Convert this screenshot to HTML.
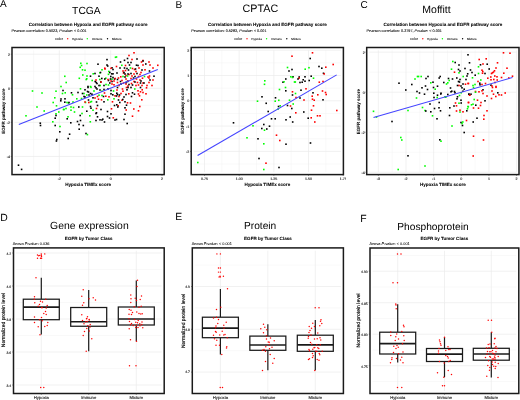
<!DOCTYPE html>
<html><head><meta charset="utf-8"><style>
html,body{margin:0;padding:0;background:#fff;}
svg{display:block;will-change:transform;}
text{font-family:"Liberation Sans", sans-serif;text-rendering:geometricPrecision;}
</style></head><body>
<svg xmlns="http://www.w3.org/2000/svg" width="520" height="400" viewBox="0 0 520 400">
<rect width="520" height="400" fill="#fff"/>
<line x1="33.65" y1="50.30" x2="33.65" y2="172.10" stroke="#f3f3f3" stroke-width="0.5"/>
<line x1="84.99" y1="50.30" x2="84.99" y2="172.10" stroke="#f3f3f3" stroke-width="0.5"/>
<line x1="136.33" y1="50.30" x2="136.33" y2="172.10" stroke="#f3f3f3" stroke-width="0.5"/>
<line x1="14.50" y1="71.26" x2="161.70" y2="71.26" stroke="#f3f3f3" stroke-width="0.5"/>
<line x1="14.50" y1="105.34" x2="161.70" y2="105.34" stroke="#f3f3f3" stroke-width="0.5"/>
<line x1="14.50" y1="139.42" x2="161.70" y2="139.42" stroke="#f3f3f3" stroke-width="0.5"/>
<line x1="14.50" y1="173.50" x2="161.70" y2="173.50" stroke="#f3f3f3" stroke-width="0.5"/>
<line x1="59.32" y1="50.30" x2="59.32" y2="172.10" stroke="#ebebeb" stroke-width="0.7"/>
<line x1="110.66" y1="50.30" x2="110.66" y2="172.10" stroke="#ebebeb" stroke-width="0.7"/>
<line x1="162.00" y1="50.30" x2="162.00" y2="172.10" stroke="#ebebeb" stroke-width="0.7"/>
<line x1="14.50" y1="54.22" x2="161.70" y2="54.22" stroke="#ebebeb" stroke-width="0.7"/>
<line x1="14.50" y1="88.30" x2="161.70" y2="88.30" stroke="#ebebeb" stroke-width="0.7"/>
<line x1="14.50" y1="122.38" x2="161.70" y2="122.38" stroke="#ebebeb" stroke-width="0.7"/>
<line x1="14.50" y1="156.46" x2="161.70" y2="156.46" stroke="#ebebeb" stroke-width="0.7"/>
<rect x="60.20" y="85.70" width="1.6" height="1.6" fill="#00ff00"/>
<rect x="114.70" y="56.50" width="1.6" height="1.6" fill="#00ff00"/>
<rect x="80.00" y="62.50" width="1.6" height="1.6" fill="#00ff00"/>
<rect x="86.20" y="62.70" width="1.6" height="1.6" fill="#00ff00"/>
<rect x="80.80" y="64.70" width="1.6" height="1.6" fill="#00ff00"/>
<rect x="79.40" y="66.50" width="1.6" height="1.6" fill="#00ff00"/>
<rect x="81.70" y="69.00" width="1.6" height="1.6" fill="#00ff00"/>
<rect x="84.20" y="69.40" width="1.6" height="1.6" fill="#00ff00"/>
<rect x="101.20" y="69.00" width="1.6" height="1.6" fill="#00ff00"/>
<rect x="92.40" y="73.00" width="1.6" height="1.6" fill="#00ff00"/>
<rect x="99.20" y="72.00" width="1.6" height="1.6" fill="#00ff00"/>
<rect x="108.00" y="70.70" width="1.6" height="1.6" fill="#00ff00"/>
<rect x="107.70" y="73.50" width="1.6" height="1.6" fill="#00ff00"/>
<rect x="82.00" y="74.20" width="1.6" height="1.6" fill="#00ff00"/>
<rect x="86.20" y="75.20" width="1.6" height="1.6" fill="#00ff00"/>
<rect x="64.00" y="75.50" width="1.6" height="1.6" fill="#00ff00"/>
<rect x="78.50" y="77.50" width="1.6" height="1.6" fill="#00ff00"/>
<rect x="86.00" y="78.00" width="1.6" height="1.6" fill="#00ff00"/>
<rect x="85.40" y="78.70" width="1.6" height="1.6" fill="#00ff00"/>
<rect x="91.40" y="79.70" width="1.6" height="1.6" fill="#00ff00"/>
<rect x="99.00" y="78.70" width="1.6" height="1.6" fill="#00ff00"/>
<rect x="65.40" y="81.70" width="1.6" height="1.6" fill="#00ff00"/>
<rect x="105.00" y="77.40" width="1.6" height="1.6" fill="#00ff00"/>
<rect x="89.70" y="85.70" width="1.6" height="1.6" fill="#00ff00"/>
<rect x="99.40" y="84.70" width="1.6" height="1.6" fill="#00ff00"/>
<rect x="105.20" y="83.70" width="1.6" height="1.6" fill="#00ff00"/>
<rect x="111.20" y="78.40" width="1.6" height="1.6" fill="#00ff00"/>
<rect x="107.70" y="84.20" width="1.6" height="1.6" fill="#00ff00"/>
<rect x="106.20" y="58.80" width="1.6" height="1.6" fill="#000000"/>
<rect x="97.20" y="63.40" width="1.6" height="1.6" fill="#000000"/>
<rect x="106.20" y="64.20" width="1.6" height="1.6" fill="#000000"/>
<rect x="106.90" y="65.20" width="1.6" height="1.6" fill="#000000"/>
<rect x="111.20" y="67.00" width="1.6" height="1.6" fill="#000000"/>
<rect x="112.20" y="68.70" width="1.6" height="1.6" fill="#000000"/>
<rect x="94.20" y="72.70" width="1.6" height="1.6" fill="#000000"/>
<rect x="99.70" y="71.70" width="1.6" height="1.6" fill="#000000"/>
<rect x="109.00" y="71.70" width="1.6" height="1.6" fill="#000000"/>
<rect x="111.00" y="73.00" width="1.6" height="1.6" fill="#000000"/>
<rect x="112.20" y="73.00" width="1.6" height="1.6" fill="#000000"/>
<rect x="89.70" y="75.40" width="1.6" height="1.6" fill="#000000"/>
<rect x="98.20" y="75.40" width="1.6" height="1.6" fill="#000000"/>
<rect x="101.00" y="77.70" width="1.6" height="1.6" fill="#000000"/>
<rect x="104.00" y="78.20" width="1.6" height="1.6" fill="#000000"/>
<rect x="110.00" y="75.70" width="1.6" height="1.6" fill="#000000"/>
<rect x="109.70" y="78.20" width="1.6" height="1.6" fill="#000000"/>
<rect x="107.70" y="79.70" width="1.6" height="1.6" fill="#000000"/>
<rect x="94.40" y="80.70" width="1.6" height="1.6" fill="#000000"/>
<rect x="95.40" y="81.70" width="1.6" height="1.6" fill="#000000"/>
<rect x="96.20" y="82.70" width="1.6" height="1.6" fill="#000000"/>
<rect x="100.00" y="81.20" width="1.6" height="1.6" fill="#000000"/>
<rect x="112.20" y="76.70" width="1.6" height="1.6" fill="#000000"/>
<rect x="113.70" y="78.20" width="1.6" height="1.6" fill="#000000"/>
<rect x="98.20" y="84.70" width="1.6" height="1.6" fill="#000000"/>
<rect x="103.20" y="84.70" width="1.6" height="1.6" fill="#000000"/>
<rect x="109.00" y="82.20" width="1.6" height="1.6" fill="#000000"/>
<rect x="111.20" y="80.70" width="1.6" height="1.6" fill="#000000"/>
<rect x="87.20" y="85.70" width="1.6" height="1.6" fill="#000000"/>
<rect x="94.20" y="85.70" width="1.6" height="1.6" fill="#000000"/>
<rect x="104.00" y="67.40" width="1.6" height="1.6" fill="#ff0000"/>
<rect x="104.20" y="68.20" width="1.6" height="1.6" fill="#ff0000"/>
<rect x="110.20" y="67.50" width="1.6" height="1.6" fill="#ff0000"/>
<rect x="95.20" y="79.20" width="1.6" height="1.6" fill="#ff0000"/>
<rect x="100.20" y="81.20" width="1.6" height="1.6" fill="#ff0000"/>
<rect x="107.20" y="78.70" width="1.6" height="1.6" fill="#ff0000"/>
<rect x="111.20" y="83.20" width="1.6" height="1.6" fill="#ff0000"/>
<rect x="113.20" y="84.00" width="1.6" height="1.6" fill="#ff0000"/>
<rect x="110.20" y="80.20" width="1.6" height="1.6" fill="#ff0000"/>
<rect x="114.40" y="77.70" width="1.6" height="1.6" fill="#ff0000"/>
<rect x="113.20" y="80.20" width="1.6" height="1.6" fill="#ff0000"/>
<rect x="133.20" y="52.00" width="1.6" height="1.6" fill="#ff0000"/>
<rect x="128.20" y="54.70" width="1.6" height="1.6" fill="#ff0000"/>
<rect x="131.20" y="58.70" width="1.6" height="1.6" fill="#ff0000"/>
<rect x="142.20" y="59.70" width="1.6" height="1.6" fill="#ff0000"/>
<rect x="140.70" y="61.20" width="1.6" height="1.6" fill="#ff0000"/>
<rect x="148.20" y="61.20" width="1.6" height="1.6" fill="#ff0000"/>
<rect x="124.70" y="64.70" width="1.6" height="1.6" fill="#ff0000"/>
<rect x="142.20" y="64.20" width="1.6" height="1.6" fill="#ff0000"/>
<rect x="149.20" y="64.20" width="1.6" height="1.6" fill="#ff0000"/>
<rect x="157.00" y="64.50" width="1.6" height="1.6" fill="#ff0000"/>
<rect x="115.70" y="65.70" width="1.6" height="1.6" fill="#ff0000"/>
<rect x="138.20" y="67.20" width="1.6" height="1.6" fill="#ff0000"/>
<rect x="144.20" y="69.00" width="1.6" height="1.6" fill="#ff0000"/>
<rect x="152.20" y="67.20" width="1.6" height="1.6" fill="#ff0000"/>
<rect x="131.70" y="67.70" width="1.6" height="1.6" fill="#ff0000"/>
<rect x="133.70" y="68.70" width="1.6" height="1.6" fill="#ff0000"/>
<rect x="122.20" y="70.20" width="1.6" height="1.6" fill="#ff0000"/>
<rect x="124.70" y="69.70" width="1.6" height="1.6" fill="#ff0000"/>
<rect x="122.70" y="72.20" width="1.6" height="1.6" fill="#ff0000"/>
<rect x="135.20" y="70.70" width="1.6" height="1.6" fill="#ff0000"/>
<rect x="140.20" y="71.70" width="1.6" height="1.6" fill="#ff0000"/>
<rect x="133.20" y="73.20" width="1.6" height="1.6" fill="#ff0000"/>
<rect x="128.20" y="73.70" width="1.6" height="1.6" fill="#ff0000"/>
<rect x="139.20" y="73.70" width="1.6" height="1.6" fill="#ff0000"/>
<rect x="120.00" y="76.00" width="1.6" height="1.6" fill="#ff0000"/>
<rect x="125.20" y="74.70" width="1.6" height="1.6" fill="#ff0000"/>
<rect x="131.20" y="75.20" width="1.6" height="1.6" fill="#ff0000"/>
<rect x="137.70" y="75.70" width="1.6" height="1.6" fill="#ff0000"/>
<rect x="148.70" y="75.20" width="1.6" height="1.6" fill="#ff0000"/>
<rect x="147.20" y="76.20" width="1.6" height="1.6" fill="#ff0000"/>
<rect x="117.70" y="77.20" width="1.6" height="1.6" fill="#ff0000"/>
<rect x="125.20" y="78.20" width="1.6" height="1.6" fill="#ff0000"/>
<rect x="130.20" y="77.70" width="1.6" height="1.6" fill="#ff0000"/>
<rect x="135.70" y="78.20" width="1.6" height="1.6" fill="#ff0000"/>
<rect x="141.70" y="77.40" width="1.6" height="1.6" fill="#ff0000"/>
<rect x="148.20" y="77.20" width="1.6" height="1.6" fill="#ff0000"/>
<rect x="121.20" y="79.70" width="1.6" height="1.6" fill="#ff0000"/>
<rect x="127.20" y="80.20" width="1.6" height="1.6" fill="#ff0000"/>
<rect x="133.20" y="80.70" width="1.6" height="1.6" fill="#ff0000"/>
<rect x="139.20" y="79.20" width="1.6" height="1.6" fill="#ff0000"/>
<rect x="152.20" y="79.20" width="1.6" height="1.6" fill="#ff0000"/>
<rect x="116.70" y="81.70" width="1.6" height="1.6" fill="#ff0000"/>
<rect x="122.70" y="82.20" width="1.6" height="1.6" fill="#ff0000"/>
<rect x="125.20" y="83.20" width="1.6" height="1.6" fill="#ff0000"/>
<rect x="130.70" y="82.70" width="1.6" height="1.6" fill="#ff0000"/>
<rect x="136.70" y="81.70" width="1.6" height="1.6" fill="#ff0000"/>
<rect x="142.20" y="82.20" width="1.6" height="1.6" fill="#ff0000"/>
<rect x="148.20" y="81.70" width="1.6" height="1.6" fill="#ff0000"/>
<rect x="118.20" y="84.70" width="1.6" height="1.6" fill="#ff0000"/>
<rect x="135.20" y="84.70" width="1.6" height="1.6" fill="#ff0000"/>
<rect x="137.70" y="84.20" width="1.6" height="1.6" fill="#ff0000"/>
<rect x="141.20" y="84.70" width="1.6" height="1.6" fill="#ff0000"/>
<rect x="146.20" y="84.70" width="1.6" height="1.6" fill="#ff0000"/>
<rect x="151.20" y="84.70" width="1.6" height="1.6" fill="#ff0000"/>
<rect x="127.20" y="85.20" width="1.6" height="1.6" fill="#ff0000"/>
<rect x="126.70" y="57.70" width="1.6" height="1.6" fill="#000000"/>
<rect x="123.70" y="59.50" width="1.6" height="1.6" fill="#000000"/>
<rect x="136.20" y="58.20" width="1.6" height="1.6" fill="#000000"/>
<rect x="119.70" y="61.20" width="1.6" height="1.6" fill="#000000"/>
<rect x="127.20" y="61.70" width="1.6" height="1.6" fill="#000000"/>
<rect x="130.20" y="61.70" width="1.6" height="1.6" fill="#000000"/>
<rect x="142.20" y="60.20" width="1.6" height="1.6" fill="#000000"/>
<rect x="145.00" y="63.20" width="1.6" height="1.6" fill="#000000"/>
<rect x="128.70" y="64.20" width="1.6" height="1.6" fill="#000000"/>
<rect x="135.70" y="64.40" width="1.6" height="1.6" fill="#000000"/>
<rect x="137.20" y="64.70" width="1.6" height="1.6" fill="#000000"/>
<rect x="119.20" y="67.20" width="1.6" height="1.6" fill="#000000"/>
<rect x="123.70" y="67.20" width="1.6" height="1.6" fill="#000000"/>
<rect x="126.20" y="67.70" width="1.6" height="1.6" fill="#000000"/>
<rect x="134.70" y="68.20" width="1.6" height="1.6" fill="#000000"/>
<rect x="141.20" y="69.20" width="1.6" height="1.6" fill="#000000"/>
<rect x="148.70" y="70.20" width="1.6" height="1.6" fill="#000000"/>
<rect x="127.70" y="69.20" width="1.6" height="1.6" fill="#000000"/>
<rect x="116.20" y="72.20" width="1.6" height="1.6" fill="#000000"/>
<rect x="123.20" y="71.70" width="1.6" height="1.6" fill="#000000"/>
<rect x="124.20" y="73.20" width="1.6" height="1.6" fill="#000000"/>
<rect x="130.20" y="72.70" width="1.6" height="1.6" fill="#000000"/>
<rect x="136.20" y="72.70" width="1.6" height="1.6" fill="#000000"/>
<rect x="127.20" y="73.20" width="1.6" height="1.6" fill="#000000"/>
<rect x="153.20" y="75.40" width="1.6" height="1.6" fill="#000000"/>
<rect x="134.20" y="75.70" width="1.6" height="1.6" fill="#000000"/>
<rect x="124.20" y="76.20" width="1.6" height="1.6" fill="#000000"/>
<rect x="116.70" y="78.70" width="1.6" height="1.6" fill="#000000"/>
<rect x="132.70" y="77.20" width="1.6" height="1.6" fill="#000000"/>
<rect x="149.20" y="79.20" width="1.6" height="1.6" fill="#000000"/>
<rect x="140.20" y="80.20" width="1.6" height="1.6" fill="#000000"/>
<rect x="119.70" y="80.70" width="1.6" height="1.6" fill="#000000"/>
<rect x="126.70" y="80.70" width="1.6" height="1.6" fill="#000000"/>
<rect x="134.20" y="81.20" width="1.6" height="1.6" fill="#000000"/>
<rect x="139.70" y="82.20" width="1.6" height="1.6" fill="#000000"/>
<rect x="120.20" y="83.20" width="1.6" height="1.6" fill="#000000"/>
<rect x="128.20" y="83.70" width="1.6" height="1.6" fill="#000000"/>
<rect x="131.70" y="84.20" width="1.6" height="1.6" fill="#000000"/>
<rect x="143.20" y="82.20" width="1.6" height="1.6" fill="#000000"/>
<rect x="125.20" y="81.70" width="1.6" height="1.6" fill="#000000"/>
<rect x="115.70" y="56.20" width="1.6" height="1.6" fill="#00ff00"/>
<rect x="121.00" y="64.50" width="1.6" height="1.6" fill="#00ff00"/>
<rect x="129.70" y="67.20" width="1.6" height="1.6" fill="#00ff00"/>
<rect x="126.70" y="75.20" width="1.6" height="1.6" fill="#00ff00"/>
<rect x="122.20" y="75.70" width="1.6" height="1.6" fill="#00ff00"/>
<rect x="143.70" y="75.70" width="1.6" height="1.6" fill="#00ff00"/>
<rect x="31.70" y="90.20" width="1.6" height="1.6" fill="#00ff00"/>
<rect x="41.20" y="92.20" width="1.6" height="1.6" fill="#00ff00"/>
<rect x="55.20" y="90.40" width="1.6" height="1.6" fill="#00ff00"/>
<rect x="61.70" y="92.70" width="1.6" height="1.6" fill="#00ff00"/>
<rect x="54.00" y="97.00" width="1.6" height="1.6" fill="#00ff00"/>
<rect x="52.40" y="101.70" width="1.6" height="1.6" fill="#00ff00"/>
<rect x="55.70" y="105.00" width="1.6" height="1.6" fill="#00ff00"/>
<rect x="36.20" y="106.20" width="1.6" height="1.6" fill="#00ff00"/>
<rect x="43.40" y="110.20" width="1.6" height="1.6" fill="#00ff00"/>
<rect x="58.00" y="111.20" width="1.6" height="1.6" fill="#00ff00"/>
<rect x="62.70" y="108.70" width="1.6" height="1.6" fill="#00ff00"/>
<rect x="55.20" y="113.00" width="1.6" height="1.6" fill="#00ff00"/>
<rect x="25.20" y="115.00" width="1.6" height="1.6" fill="#00ff00"/>
<rect x="52.00" y="121.00" width="1.6" height="1.6" fill="#00ff00"/>
<rect x="59.20" y="125.70" width="1.6" height="1.6" fill="#00ff00"/>
<rect x="62.20" y="89.70" width="1.6" height="1.6" fill="#000000"/>
<rect x="60.20" y="98.20" width="1.6" height="1.6" fill="#000000"/>
<rect x="60.00" y="100.00" width="1.6" height="1.6" fill="#000000"/>
<rect x="55.20" y="114.70" width="1.6" height="1.6" fill="#000000"/>
<rect x="54.40" y="117.40" width="1.6" height="1.6" fill="#000000"/>
<rect x="39.50" y="122.40" width="1.6" height="1.6" fill="#000000"/>
<rect x="39.70" y="124.70" width="1.6" height="1.6" fill="#000000"/>
<rect x="54.40" y="124.70" width="1.6" height="1.6" fill="#000000"/>
<rect x="79.70" y="88.00" width="1.6" height="1.6" fill="#00ff00"/>
<rect x="90.20" y="86.50" width="1.6" height="1.6" fill="#00ff00"/>
<rect x="64.40" y="92.00" width="1.6" height="1.6" fill="#00ff00"/>
<rect x="71.70" y="94.00" width="1.6" height="1.6" fill="#00ff00"/>
<rect x="83.20" y="92.70" width="1.6" height="1.6" fill="#00ff00"/>
<rect x="93.20" y="90.20" width="1.6" height="1.6" fill="#00ff00"/>
<rect x="101.20" y="90.40" width="1.6" height="1.6" fill="#00ff00"/>
<rect x="112.70" y="90.20" width="1.6" height="1.6" fill="#00ff00"/>
<rect x="98.20" y="94.40" width="1.6" height="1.6" fill="#00ff00"/>
<rect x="101.20" y="94.70" width="1.6" height="1.6" fill="#00ff00"/>
<rect x="86.00" y="94.20" width="1.6" height="1.6" fill="#00ff00"/>
<rect x="76.00" y="98.00" width="1.6" height="1.6" fill="#00ff00"/>
<rect x="80.70" y="97.70" width="1.6" height="1.6" fill="#00ff00"/>
<rect x="107.00" y="99.00" width="1.6" height="1.6" fill="#00ff00"/>
<rect x="113.20" y="98.00" width="1.6" height="1.6" fill="#00ff00"/>
<rect x="90.70" y="100.70" width="1.6" height="1.6" fill="#00ff00"/>
<rect x="89.70" y="101.20" width="1.6" height="1.6" fill="#00ff00"/>
<rect x="84.70" y="101.70" width="1.6" height="1.6" fill="#00ff00"/>
<rect x="72.20" y="101.20" width="1.6" height="1.6" fill="#00ff00"/>
<rect x="66.20" y="101.70" width="1.6" height="1.6" fill="#00ff00"/>
<rect x="67.70" y="102.20" width="1.6" height="1.6" fill="#00ff00"/>
<rect x="81.70" y="106.20" width="1.6" height="1.6" fill="#00ff00"/>
<rect x="70.20" y="106.20" width="1.6" height="1.6" fill="#00ff00"/>
<rect x="65.20" y="107.70" width="1.6" height="1.6" fill="#00ff00"/>
<rect x="63.20" y="108.70" width="1.6" height="1.6" fill="#00ff00"/>
<rect x="72.70" y="106.70" width="1.6" height="1.6" fill="#00ff00"/>
<rect x="70.20" y="109.40" width="1.6" height="1.6" fill="#00ff00"/>
<rect x="73.70" y="111.20" width="1.6" height="1.6" fill="#00ff00"/>
<rect x="81.20" y="112.70" width="1.6" height="1.6" fill="#00ff00"/>
<rect x="89.00" y="115.00" width="1.6" height="1.6" fill="#00ff00"/>
<rect x="67.20" y="116.00" width="1.6" height="1.6" fill="#00ff00"/>
<rect x="92.20" y="109.40" width="1.6" height="1.6" fill="#00ff00"/>
<rect x="89.50" y="121.00" width="1.6" height="1.6" fill="#00ff00"/>
<rect x="87.20" y="86.70" width="1.6" height="1.6" fill="#000000"/>
<rect x="95.20" y="87.00" width="1.6" height="1.6" fill="#000000"/>
<rect x="96.20" y="88.20" width="1.6" height="1.6" fill="#000000"/>
<rect x="84.20" y="89.00" width="1.6" height="1.6" fill="#000000"/>
<rect x="86.70" y="90.70" width="1.6" height="1.6" fill="#000000"/>
<rect x="87.70" y="91.20" width="1.6" height="1.6" fill="#000000"/>
<rect x="77.20" y="91.70" width="1.6" height="1.6" fill="#000000"/>
<rect x="70.70" y="92.00" width="1.6" height="1.6" fill="#000000"/>
<rect x="81.70" y="92.70" width="1.6" height="1.6" fill="#000000"/>
<rect x="89.70" y="92.70" width="1.6" height="1.6" fill="#000000"/>
<rect x="91.20" y="93.40" width="1.6" height="1.6" fill="#000000"/>
<rect x="88.20" y="94.20" width="1.6" height="1.6" fill="#000000"/>
<rect x="99.20" y="89.20" width="1.6" height="1.6" fill="#000000"/>
<rect x="103.20" y="88.70" width="1.6" height="1.6" fill="#000000"/>
<rect x="107.20" y="88.20" width="1.6" height="1.6" fill="#000000"/>
<rect x="110.20" y="89.70" width="1.6" height="1.6" fill="#000000"/>
<rect x="110.20" y="93.00" width="1.6" height="1.6" fill="#000000"/>
<rect x="112.00" y="94.00" width="1.6" height="1.6" fill="#000000"/>
<rect x="83.20" y="95.70" width="1.6" height="1.6" fill="#000000"/>
<rect x="84.20" y="96.20" width="1.6" height="1.6" fill="#000000"/>
<rect x="92.20" y="97.00" width="1.6" height="1.6" fill="#000000"/>
<rect x="102.70" y="95.70" width="1.6" height="1.6" fill="#000000"/>
<rect x="64.20" y="98.00" width="1.6" height="1.6" fill="#000000"/>
<rect x="87.70" y="99.20" width="1.6" height="1.6" fill="#000000"/>
<rect x="95.70" y="101.20" width="1.6" height="1.6" fill="#000000"/>
<rect x="103.20" y="101.00" width="1.6" height="1.6" fill="#000000"/>
<rect x="64.00" y="101.40" width="1.6" height="1.6" fill="#000000"/>
<rect x="68.20" y="101.70" width="1.6" height="1.6" fill="#000000"/>
<rect x="113.70" y="104.70" width="1.6" height="1.6" fill="#000000"/>
<rect x="96.70" y="104.70" width="1.6" height="1.6" fill="#000000"/>
<rect x="78.00" y="106.20" width="1.6" height="1.6" fill="#000000"/>
<rect x="89.70" y="105.70" width="1.6" height="1.6" fill="#000000"/>
<rect x="90.20" y="107.40" width="1.6" height="1.6" fill="#000000"/>
<rect x="100.20" y="108.70" width="1.6" height="1.6" fill="#000000"/>
<rect x="86.00" y="110.40" width="1.6" height="1.6" fill="#000000"/>
<rect x="106.70" y="110.70" width="1.6" height="1.6" fill="#000000"/>
<rect x="95.70" y="112.00" width="1.6" height="1.6" fill="#000000"/>
<rect x="95.20" y="112.70" width="1.6" height="1.6" fill="#000000"/>
<rect x="110.20" y="113.00" width="1.6" height="1.6" fill="#000000"/>
<rect x="79.40" y="114.70" width="1.6" height="1.6" fill="#000000"/>
<rect x="96.70" y="116.00" width="1.6" height="1.6" fill="#000000"/>
<rect x="106.70" y="115.70" width="1.6" height="1.6" fill="#000000"/>
<rect x="108.70" y="117.20" width="1.6" height="1.6" fill="#000000"/>
<rect x="66.40" y="118.00" width="1.6" height="1.6" fill="#000000"/>
<rect x="99.20" y="119.00" width="1.6" height="1.6" fill="#000000"/>
<rect x="102.00" y="118.40" width="1.6" height="1.6" fill="#000000"/>
<rect x="101.20" y="119.20" width="1.6" height="1.6" fill="#000000"/>
<rect x="95.20" y="119.70" width="1.6" height="1.6" fill="#000000"/>
<rect x="79.70" y="119.70" width="1.6" height="1.6" fill="#000000"/>
<rect x="76.70" y="120.70" width="1.6" height="1.6" fill="#000000"/>
<rect x="103.70" y="121.20" width="1.6" height="1.6" fill="#000000"/>
<rect x="70.00" y="122.00" width="1.6" height="1.6" fill="#000000"/>
<rect x="78.20" y="123.70" width="1.6" height="1.6" fill="#000000"/>
<rect x="82.50" y="124.70" width="1.6" height="1.6" fill="#000000"/>
<rect x="114.20" y="119.20" width="1.6" height="1.6" fill="#000000"/>
<rect x="103.70" y="92.20" width="1.6" height="1.6" fill="#ff0000"/>
<rect x="105.00" y="95.40" width="1.6" height="1.6" fill="#ff0000"/>
<rect x="96.70" y="95.70" width="1.6" height="1.6" fill="#ff0000"/>
<rect x="108.20" y="96.00" width="1.6" height="1.6" fill="#ff0000"/>
<rect x="94.20" y="97.20" width="1.6" height="1.6" fill="#ff0000"/>
<rect x="97.70" y="98.40" width="1.6" height="1.6" fill="#ff0000"/>
<rect x="100.70" y="99.00" width="1.6" height="1.6" fill="#ff0000"/>
<rect x="84.20" y="101.20" width="1.6" height="1.6" fill="#ff0000"/>
<rect x="88.00" y="101.70" width="1.6" height="1.6" fill="#ff0000"/>
<rect x="111.70" y="101.00" width="1.6" height="1.6" fill="#ff0000"/>
<rect x="114.20" y="95.00" width="1.6" height="1.6" fill="#ff0000"/>
<rect x="95.70" y="107.70" width="1.6" height="1.6" fill="#ff0000"/>
<rect x="110.70" y="108.00" width="1.6" height="1.6" fill="#ff0000"/>
<rect x="112.50" y="117.00" width="1.6" height="1.6" fill="#ff0000"/>
<rect x="116.20" y="89.20" width="1.6" height="1.6" fill="#ff0000"/>
<rect x="121.70" y="88.20" width="1.6" height="1.6" fill="#ff0000"/>
<rect x="122.20" y="90.40" width="1.6" height="1.6" fill="#ff0000"/>
<rect x="125.70" y="86.70" width="1.6" height="1.6" fill="#ff0000"/>
<rect x="137.20" y="90.00" width="1.6" height="1.6" fill="#ff0000"/>
<rect x="139.70" y="91.00" width="1.6" height="1.6" fill="#ff0000"/>
<rect x="141.40" y="89.00" width="1.6" height="1.6" fill="#ff0000"/>
<rect x="142.20" y="91.70" width="1.6" height="1.6" fill="#ff0000"/>
<rect x="145.70" y="87.00" width="1.6" height="1.6" fill="#ff0000"/>
<rect x="145.20" y="93.00" width="1.6" height="1.6" fill="#ff0000"/>
<rect x="128.00" y="93.00" width="1.6" height="1.6" fill="#ff0000"/>
<rect x="120.20" y="92.70" width="1.6" height="1.6" fill="#ff0000"/>
<rect x="137.70" y="93.20" width="1.6" height="1.6" fill="#ff0000"/>
<rect x="138.70" y="95.00" width="1.6" height="1.6" fill="#ff0000"/>
<rect x="118.20" y="95.70" width="1.6" height="1.6" fill="#ff0000"/>
<rect x="141.00" y="99.00" width="1.6" height="1.6" fill="#ff0000"/>
<rect x="121.20" y="99.40" width="1.6" height="1.6" fill="#ff0000"/>
<rect x="126.70" y="102.00" width="1.6" height="1.6" fill="#ff0000"/>
<rect x="129.70" y="102.20" width="1.6" height="1.6" fill="#ff0000"/>
<rect x="117.40" y="105.00" width="1.6" height="1.6" fill="#ff0000"/>
<rect x="139.00" y="105.70" width="1.6" height="1.6" fill="#ff0000"/>
<rect x="133.00" y="108.20" width="1.6" height="1.6" fill="#ff0000"/>
<rect x="125.40" y="109.20" width="1.6" height="1.6" fill="#ff0000"/>
<rect x="137.70" y="110.00" width="1.6" height="1.6" fill="#ff0000"/>
<rect x="131.70" y="115.40" width="1.6" height="1.6" fill="#ff0000"/>
<rect x="116.70" y="86.70" width="1.6" height="1.6" fill="#000000"/>
<rect x="127.20" y="86.70" width="1.6" height="1.6" fill="#000000"/>
<rect x="130.20" y="86.70" width="1.6" height="1.6" fill="#000000"/>
<rect x="139.70" y="86.70" width="1.6" height="1.6" fill="#000000"/>
<rect x="126.20" y="89.00" width="1.6" height="1.6" fill="#000000"/>
<rect x="116.00" y="92.40" width="1.6" height="1.6" fill="#000000"/>
<rect x="116.70" y="93.70" width="1.6" height="1.6" fill="#000000"/>
<rect x="118.70" y="94.20" width="1.6" height="1.6" fill="#000000"/>
<rect x="115.70" y="95.20" width="1.6" height="1.6" fill="#000000"/>
<rect x="125.20" y="93.70" width="1.6" height="1.6" fill="#000000"/>
<rect x="131.70" y="92.00" width="1.6" height="1.6" fill="#000000"/>
<rect x="133.70" y="93.40" width="1.6" height="1.6" fill="#000000"/>
<rect x="130.70" y="95.70" width="1.6" height="1.6" fill="#000000"/>
<rect x="123.20" y="96.20" width="1.6" height="1.6" fill="#000000"/>
<rect x="117.70" y="99.20" width="1.6" height="1.6" fill="#000000"/>
<rect x="122.00" y="98.70" width="1.6" height="1.6" fill="#000000"/>
<rect x="119.00" y="101.70" width="1.6" height="1.6" fill="#000000"/>
<rect x="124.20" y="101.00" width="1.6" height="1.6" fill="#000000"/>
<rect x="116.00" y="104.00" width="1.6" height="1.6" fill="#000000"/>
<rect x="125.70" y="104.40" width="1.6" height="1.6" fill="#000000"/>
<rect x="117.00" y="106.20" width="1.6" height="1.6" fill="#000000"/>
<rect x="124.20" y="107.00" width="1.6" height="1.6" fill="#000000"/>
<rect x="124.20" y="113.40" width="1.6" height="1.6" fill="#000000"/>
<rect x="115.70" y="118.70" width="1.6" height="1.6" fill="#000000"/>
<rect x="123.20" y="118.70" width="1.6" height="1.6" fill="#000000"/>
<rect x="126.40" y="122.70" width="1.6" height="1.6" fill="#000000"/>
<rect x="134.00" y="88.20" width="1.6" height="1.6" fill="#00ff00"/>
<rect x="59.00" y="131.00" width="1.6" height="1.6" fill="#000000"/>
<rect x="56.00" y="138.70" width="1.6" height="1.6" fill="#000000"/>
<rect x="55.60" y="140.20" width="1.6" height="1.6" fill="#000000"/>
<rect x="17.70" y="164.40" width="1.6" height="1.6" fill="#000000"/>
<rect x="20.80" y="168.60" width="1.6" height="1.6" fill="#000000"/>
<rect x="78.40" y="128.40" width="1.6" height="1.6" fill="#000000"/>
<rect x="68.80" y="133.40" width="1.6" height="1.6" fill="#000000"/>
<rect x="67.40" y="137.70" width="1.6" height="1.6" fill="#000000"/>
<rect x="85.20" y="132.70" width="1.6" height="1.6" fill="#000000"/>
<rect x="86.60" y="133.80" width="1.6" height="1.6" fill="#00ff00"/>
<line x1="18.80" y1="124.40" x2="157.80" y2="69.50" stroke="#4444ff" stroke-width="1.05"/>
<rect x="12.00" y="47.50" width="152.20" height="127.10" fill="none" stroke="#1a1a1a" stroke-width="1.5"/>
<line x1="59.32" y1="174.60" x2="59.32" y2="175.80" stroke="#333" stroke-width="0.6"/>
<text x="59.32" y="179.90" font-size="3.6" text-anchor="middle" fill="#333333" stroke="#333333" stroke-width="0.15">-2</text>
<line x1="110.66" y1="174.60" x2="110.66" y2="175.80" stroke="#333" stroke-width="0.6"/>
<text x="110.66" y="179.90" font-size="3.6" text-anchor="middle" fill="#333333" stroke="#333333" stroke-width="0.15">0</text>
<line x1="162.00" y1="174.60" x2="162.00" y2="175.80" stroke="#333" stroke-width="0.6"/>
<text x="162.00" y="179.90" font-size="3.6" text-anchor="middle" fill="#333333" stroke="#333333" stroke-width="0.15">2</text>
<line x1="10.80" y1="54.22" x2="12.00" y2="54.22" stroke="#333" stroke-width="0.6"/>
<text x="10.00" y="55.62" font-size="3.6" text-anchor="end" fill="#333333" stroke="#333333" stroke-width="0.15">2</text>
<line x1="10.80" y1="88.30" x2="12.00" y2="88.30" stroke="#333" stroke-width="0.6"/>
<text x="10.00" y="89.70" font-size="3.6" text-anchor="end" fill="#333333" stroke="#333333" stroke-width="0.15">0</text>
<line x1="10.80" y1="122.38" x2="12.00" y2="122.38" stroke="#333" stroke-width="0.6"/>
<text x="10.00" y="123.78" font-size="3.6" text-anchor="end" fill="#333333" stroke="#333333" stroke-width="0.15">-2</text>
<line x1="10.80" y1="156.46" x2="12.00" y2="156.46" stroke="#333" stroke-width="0.6"/>
<text x="10.00" y="157.86" font-size="3.6" text-anchor="end" fill="#333333" stroke="#333333" stroke-width="0.15">-4</text>
<line x1="221.83" y1="50.30" x2="221.83" y2="172.10" stroke="#f3f3f3" stroke-width="0.5"/>
<line x1="256.50" y1="50.30" x2="256.50" y2="172.10" stroke="#f3f3f3" stroke-width="0.5"/>
<line x1="291.17" y1="50.30" x2="291.17" y2="172.10" stroke="#f3f3f3" stroke-width="0.5"/>
<line x1="325.84" y1="50.30" x2="325.84" y2="172.10" stroke="#f3f3f3" stroke-width="0.5"/>
<line x1="193.70" y1="62.85" x2="340.90" y2="62.85" stroke="#f3f3f3" stroke-width="0.5"/>
<line x1="193.70" y1="88.15" x2="340.90" y2="88.15" stroke="#f3f3f3" stroke-width="0.5"/>
<line x1="193.70" y1="113.45" x2="340.90" y2="113.45" stroke="#f3f3f3" stroke-width="0.5"/>
<line x1="193.70" y1="138.75" x2="340.90" y2="138.75" stroke="#f3f3f3" stroke-width="0.5"/>
<line x1="193.70" y1="164.05" x2="340.90" y2="164.05" stroke="#f3f3f3" stroke-width="0.5"/>
<line x1="204.50" y1="50.30" x2="204.50" y2="172.10" stroke="#ebebeb" stroke-width="0.7"/>
<line x1="239.17" y1="50.30" x2="239.17" y2="172.10" stroke="#ebebeb" stroke-width="0.7"/>
<line x1="273.83" y1="50.30" x2="273.83" y2="172.10" stroke="#ebebeb" stroke-width="0.7"/>
<line x1="308.50" y1="50.30" x2="308.50" y2="172.10" stroke="#ebebeb" stroke-width="0.7"/>
<line x1="343.17" y1="50.30" x2="343.17" y2="172.10" stroke="#ebebeb" stroke-width="0.7"/>
<line x1="193.70" y1="50.20" x2="340.90" y2="50.20" stroke="#ebebeb" stroke-width="0.7"/>
<line x1="193.70" y1="75.50" x2="340.90" y2="75.50" stroke="#ebebeb" stroke-width="0.7"/>
<line x1="193.70" y1="100.80" x2="340.90" y2="100.80" stroke="#ebebeb" stroke-width="0.7"/>
<line x1="193.70" y1="126.10" x2="340.90" y2="126.10" stroke="#ebebeb" stroke-width="0.7"/>
<line x1="193.70" y1="151.40" x2="340.90" y2="151.40" stroke="#ebebeb" stroke-width="0.7"/>
<rect x="291.20" y="55.40" width="1.6" height="1.6" fill="#ff0000"/>
<rect x="286.70" y="66.70" width="1.6" height="1.6" fill="#00ff00"/>
<rect x="291.20" y="68.70" width="1.6" height="1.6" fill="#000000"/>
<rect x="288.20" y="70.20" width="1.6" height="1.6" fill="#000000"/>
<rect x="290.00" y="76.00" width="1.6" height="1.6" fill="#00ff00"/>
<rect x="292.20" y="76.00" width="1.6" height="1.6" fill="#000000"/>
<rect x="291.70" y="76.70" width="1.6" height="1.6" fill="#00ff00"/>
<rect x="285.00" y="78.20" width="1.6" height="1.6" fill="#000000"/>
<rect x="282.20" y="81.40" width="1.6" height="1.6" fill="#000000"/>
<rect x="283.20" y="81.00" width="1.6" height="1.6" fill="#00ff00"/>
<rect x="293.70" y="81.20" width="1.6" height="1.6" fill="#00ff00"/>
<rect x="264.00" y="80.00" width="1.6" height="1.6" fill="#00ff00"/>
<rect x="263.70" y="83.50" width="1.6" height="1.6" fill="#00ff00"/>
<rect x="311.70" y="52.00" width="1.6" height="1.6" fill="#ff0000"/>
<rect x="309.40" y="57.70" width="1.6" height="1.6" fill="#000000"/>
<rect x="332.40" y="63.70" width="1.6" height="1.6" fill="#ff0000"/>
<rect x="318.20" y="65.70" width="1.6" height="1.6" fill="#000000"/>
<rect x="321.00" y="67.40" width="1.6" height="1.6" fill="#000000"/>
<rect x="325.00" y="66.40" width="1.6" height="1.6" fill="#ff0000"/>
<rect x="308.20" y="66.90" width="1.6" height="1.6" fill="#00ff00"/>
<rect x="304.40" y="68.40" width="1.6" height="1.6" fill="#00ff00"/>
<rect x="322.70" y="72.50" width="1.6" height="1.6" fill="#000000"/>
<rect x="323.40" y="73.10" width="1.6" height="1.6" fill="#ff0000"/>
<rect x="298.40" y="76.20" width="1.6" height="1.6" fill="#000000"/>
<rect x="298.20" y="77.40" width="1.6" height="1.6" fill="#ff0000"/>
<rect x="297.20" y="78.20" width="1.6" height="1.6" fill="#000000"/>
<rect x="304.20" y="76.00" width="1.6" height="1.6" fill="#000000"/>
<rect x="310.40" y="75.40" width="1.6" height="1.6" fill="#000000"/>
<rect x="312.70" y="77.40" width="1.6" height="1.6" fill="#00ff00"/>
<rect x="302.40" y="79.00" width="1.6" height="1.6" fill="#000000"/>
<rect x="304.20" y="80.40" width="1.6" height="1.6" fill="#000000"/>
<rect x="308.40" y="79.70" width="1.6" height="1.6" fill="#000000"/>
<rect x="299.20" y="81.70" width="1.6" height="1.6" fill="#000000"/>
<rect x="301.40" y="81.40" width="1.6" height="1.6" fill="#000000"/>
<rect x="294.50" y="81.20" width="1.6" height="1.6" fill="#00ff00"/>
<rect x="318.50" y="81.40" width="1.6" height="1.6" fill="#ff0000"/>
<rect x="322.20" y="80.70" width="1.6" height="1.6" fill="#ff0000"/>
<rect x="232.70" y="122.00" width="1.6" height="1.6" fill="#000000"/>
<rect x="278.70" y="88.70" width="1.6" height="1.6" fill="#00ff00"/>
<rect x="284.70" y="86.70" width="1.6" height="1.6" fill="#00ff00"/>
<rect x="285.00" y="90.00" width="1.6" height="1.6" fill="#000000"/>
<rect x="291.70" y="91.00" width="1.6" height="1.6" fill="#ff0000"/>
<rect x="291.70" y="94.20" width="1.6" height="1.6" fill="#000000"/>
<rect x="261.20" y="96.00" width="1.6" height="1.6" fill="#000000"/>
<rect x="274.70" y="97.00" width="1.6" height="1.6" fill="#000000"/>
<rect x="256.70" y="100.40" width="1.6" height="1.6" fill="#00ff00"/>
<rect x="274.40" y="100.40" width="1.6" height="1.6" fill="#00ff00"/>
<rect x="278.00" y="99.50" width="1.6" height="1.6" fill="#00ff00"/>
<rect x="288.70" y="99.40" width="1.6" height="1.6" fill="#00ff00"/>
<rect x="265.40" y="102.50" width="1.6" height="1.6" fill="#000000"/>
<rect x="279.40" y="105.00" width="1.6" height="1.6" fill="#00ff00"/>
<rect x="277.70" y="105.70" width="1.6" height="1.6" fill="#000000"/>
<rect x="286.70" y="104.70" width="1.6" height="1.6" fill="#000000"/>
<rect x="289.70" y="105.20" width="1.6" height="1.6" fill="#ff0000"/>
<rect x="292.40" y="103.20" width="1.6" height="1.6" fill="#00ff00"/>
<rect x="291.00" y="107.70" width="1.6" height="1.6" fill="#000000"/>
<rect x="277.20" y="108.40" width="1.6" height="1.6" fill="#00ff00"/>
<rect x="267.40" y="110.70" width="1.6" height="1.6" fill="#000000"/>
<rect x="270.70" y="118.00" width="1.6" height="1.6" fill="#000000"/>
<rect x="274.40" y="118.00" width="1.6" height="1.6" fill="#000000"/>
<rect x="285.20" y="119.00" width="1.6" height="1.6" fill="#000000"/>
<rect x="289.40" y="116.20" width="1.6" height="1.6" fill="#000000"/>
<rect x="291.90" y="121.20" width="1.6" height="1.6" fill="#000000"/>
<rect x="263.00" y="123.70" width="1.6" height="1.6" fill="#000000"/>
<rect x="252.20" y="125.00" width="1.6" height="1.6" fill="#00ff00"/>
<rect x="268.70" y="125.40" width="1.6" height="1.6" fill="#000000"/>
<rect x="305.20" y="88.00" width="1.6" height="1.6" fill="#ff0000"/>
<rect x="300.20" y="89.40" width="1.6" height="1.6" fill="#000000"/>
<rect x="294.70" y="92.70" width="1.6" height="1.6" fill="#00ff00"/>
<rect x="295.20" y="96.70" width="1.6" height="1.6" fill="#ff0000"/>
<rect x="299.20" y="97.20" width="1.6" height="1.6" fill="#000000"/>
<rect x="303.20" y="99.20" width="1.6" height="1.6" fill="#ff0000"/>
<rect x="312.20" y="92.00" width="1.6" height="1.6" fill="#000000"/>
<rect x="311.40" y="95.40" width="1.6" height="1.6" fill="#ff0000"/>
<rect x="317.00" y="94.00" width="1.6" height="1.6" fill="#ff0000"/>
<rect x="321.70" y="90.20" width="1.6" height="1.6" fill="#ff0000"/>
<rect x="324.70" y="91.70" width="1.6" height="1.6" fill="#ff0000"/>
<rect x="325.40" y="93.70" width="1.6" height="1.6" fill="#ff0000"/>
<rect x="311.70" y="98.40" width="1.6" height="1.6" fill="#ff0000"/>
<rect x="313.40" y="99.40" width="1.6" height="1.6" fill="#ff0000"/>
<rect x="322.20" y="99.00" width="1.6" height="1.6" fill="#000000"/>
<rect x="312.70" y="105.00" width="1.6" height="1.6" fill="#ff0000"/>
<rect x="310.70" y="109.40" width="1.6" height="1.6" fill="#ff0000"/>
<rect x="336.00" y="109.70" width="1.6" height="1.6" fill="#ff0000"/>
<rect x="295.00" y="112.00" width="1.6" height="1.6" fill="#ff0000"/>
<rect x="303.00" y="111.20" width="1.6" height="1.6" fill="#000000"/>
<rect x="316.70" y="115.00" width="1.6" height="1.6" fill="#ff0000"/>
<rect x="319.20" y="115.00" width="1.6" height="1.6" fill="#ff0000"/>
<rect x="307.40" y="117.40" width="1.6" height="1.6" fill="#000000"/>
<rect x="310.40" y="117.00" width="1.6" height="1.6" fill="#ff0000"/>
<rect x="314.00" y="121.20" width="1.6" height="1.6" fill="#ff0000"/>
<rect x="197.00" y="161.70" width="1.6" height="1.6" fill="#00ff00"/>
<rect x="261.00" y="127.70" width="1.6" height="1.6" fill="#000000"/>
<rect x="263.70" y="129.40" width="1.6" height="1.6" fill="#00ff00"/>
<rect x="266.00" y="128.20" width="1.6" height="1.6" fill="#000000"/>
<rect x="246.20" y="137.00" width="1.6" height="1.6" fill="#00ff00"/>
<rect x="257.20" y="138.00" width="1.6" height="1.6" fill="#000000"/>
<rect x="263.00" y="143.00" width="1.6" height="1.6" fill="#00ff00"/>
<rect x="275.70" y="134.40" width="1.6" height="1.6" fill="#ff0000"/>
<rect x="279.00" y="139.70" width="1.6" height="1.6" fill="#ff0000"/>
<rect x="285.20" y="143.40" width="1.6" height="1.6" fill="#000000"/>
<rect x="258.20" y="157.70" width="1.6" height="1.6" fill="#000000"/>
<rect x="265.20" y="162.40" width="1.6" height="1.6" fill="#ff0000"/>
<rect x="309.70" y="142.20" width="1.6" height="1.6" fill="#000000"/>
<rect x="263.00" y="168.70" width="1.6" height="1.6" fill="#00ff00"/>
<rect x="278.20" y="166.70" width="1.6" height="1.6" fill="#000000"/>
<line x1="197.60" y1="155.50" x2="336.70" y2="74.90" stroke="#4444ff" stroke-width="1.05"/>
<rect x="191.20" y="47.50" width="152.20" height="127.10" fill="none" stroke="#1a1a1a" stroke-width="1.5"/>
<line x1="204.50" y1="174.60" x2="204.50" y2="175.80" stroke="#333" stroke-width="0.6"/>
<text x="204.50" y="179.90" font-size="3.6" text-anchor="middle" fill="#333333" stroke="#333333" stroke-width="0.15">0.75</text>
<line x1="239.17" y1="174.60" x2="239.17" y2="175.80" stroke="#333" stroke-width="0.6"/>
<text x="239.17" y="179.90" font-size="3.6" text-anchor="middle" fill="#333333" stroke="#333333" stroke-width="0.15">1.00</text>
<line x1="273.83" y1="174.60" x2="273.83" y2="175.80" stroke="#333" stroke-width="0.6"/>
<text x="273.83" y="179.90" font-size="3.6" text-anchor="middle" fill="#333333" stroke="#333333" stroke-width="0.15">1.25</text>
<line x1="308.50" y1="174.60" x2="308.50" y2="175.80" stroke="#333" stroke-width="0.6"/>
<text x="308.50" y="179.90" font-size="3.6" text-anchor="middle" fill="#333333" stroke="#333333" stroke-width="0.15">1.50</text>
<line x1="343.17" y1="174.60" x2="343.17" y2="175.80" stroke="#333" stroke-width="0.6"/>
<text x="343.17" y="179.90" font-size="3.6" text-anchor="middle" fill="#333333" stroke="#333333" stroke-width="0.15">1.75</text>
<line x1="190.00" y1="50.20" x2="191.20" y2="50.20" stroke="#333" stroke-width="0.6"/>
<text x="189.20" y="51.60" font-size="3.6" text-anchor="end" fill="#333333" stroke="#333333" stroke-width="0.15">2</text>
<line x1="190.00" y1="75.50" x2="191.20" y2="75.50" stroke="#333" stroke-width="0.6"/>
<text x="189.20" y="76.90" font-size="3.6" text-anchor="end" fill="#333333" stroke="#333333" stroke-width="0.15">1</text>
<line x1="190.00" y1="100.80" x2="191.20" y2="100.80" stroke="#333" stroke-width="0.6"/>
<text x="189.20" y="102.20" font-size="3.6" text-anchor="end" fill="#333333" stroke="#333333" stroke-width="0.15">0</text>
<line x1="190.00" y1="126.10" x2="191.20" y2="126.10" stroke="#333" stroke-width="0.6"/>
<text x="189.20" y="127.50" font-size="3.6" text-anchor="end" fill="#333333" stroke="#333333" stroke-width="0.15">-1</text>
<line x1="190.00" y1="151.40" x2="191.20" y2="151.40" stroke="#333" stroke-width="0.6"/>
<text x="189.20" y="152.80" font-size="3.6" text-anchor="end" fill="#333333" stroke="#333333" stroke-width="0.15">-2</text>
<line x1="392.18" y1="50.30" x2="392.18" y2="172.10" stroke="#f3f3f3" stroke-width="0.5"/>
<line x1="419.83" y1="50.30" x2="419.83" y2="172.10" stroke="#f3f3f3" stroke-width="0.5"/>
<line x1="447.48" y1="50.30" x2="447.48" y2="172.10" stroke="#f3f3f3" stroke-width="0.5"/>
<line x1="475.12" y1="50.30" x2="475.12" y2="172.10" stroke="#f3f3f3" stroke-width="0.5"/>
<line x1="502.77" y1="50.30" x2="502.77" y2="172.10" stroke="#f3f3f3" stroke-width="0.5"/>
<line x1="369.20" y1="72.18" x2="516.50" y2="72.18" stroke="#f3f3f3" stroke-width="0.5"/>
<line x1="369.20" y1="112.22" x2="516.50" y2="112.22" stroke="#f3f3f3" stroke-width="0.5"/>
<line x1="369.20" y1="152.26" x2="516.50" y2="152.26" stroke="#f3f3f3" stroke-width="0.5"/>
<line x1="378.35" y1="50.30" x2="378.35" y2="172.10" stroke="#ebebeb" stroke-width="0.7"/>
<line x1="406.00" y1="50.30" x2="406.00" y2="172.10" stroke="#ebebeb" stroke-width="0.7"/>
<line x1="433.65" y1="50.30" x2="433.65" y2="172.10" stroke="#ebebeb" stroke-width="0.7"/>
<line x1="461.30" y1="50.30" x2="461.30" y2="172.10" stroke="#ebebeb" stroke-width="0.7"/>
<line x1="488.95" y1="50.30" x2="488.95" y2="172.10" stroke="#ebebeb" stroke-width="0.7"/>
<line x1="516.60" y1="50.30" x2="516.60" y2="172.10" stroke="#ebebeb" stroke-width="0.7"/>
<line x1="369.20" y1="52.16" x2="516.50" y2="52.16" stroke="#ebebeb" stroke-width="0.7"/>
<line x1="369.20" y1="92.20" x2="516.50" y2="92.20" stroke="#ebebeb" stroke-width="0.7"/>
<line x1="369.20" y1="132.24" x2="516.50" y2="132.24" stroke="#ebebeb" stroke-width="0.7"/>
<line x1="369.20" y1="172.28" x2="516.50" y2="172.28" stroke="#ebebeb" stroke-width="0.7"/>
<rect x="416.70" y="75.70" width="1.6" height="1.6" fill="#00ff00"/>
<rect x="414.20" y="78.20" width="1.6" height="1.6" fill="#00ff00"/>
<rect x="398.20" y="82.40" width="1.6" height="1.6" fill="#000000"/>
<rect x="411.00" y="83.70" width="1.6" height="1.6" fill="#000000"/>
<rect x="467.20" y="54.00" width="1.6" height="1.6" fill="#000000"/>
<rect x="452.00" y="60.70" width="1.6" height="1.6" fill="#00ff00"/>
<rect x="454.40" y="61.70" width="1.6" height="1.6" fill="#000000"/>
<rect x="468.70" y="62.00" width="1.6" height="1.6" fill="#000000"/>
<rect x="458.20" y="64.20" width="1.6" height="1.6" fill="#000000"/>
<rect x="450.70" y="68.40" width="1.6" height="1.6" fill="#00ff00"/>
<rect x="457.70" y="68.70" width="1.6" height="1.6" fill="#000000"/>
<rect x="459.20" y="70.20" width="1.6" height="1.6" fill="#000000"/>
<rect x="464.20" y="67.70" width="1.6" height="1.6" fill="#000000"/>
<rect x="453.70" y="71.40" width="1.6" height="1.6" fill="#ff0000"/>
<rect x="458.20" y="72.00" width="1.6" height="1.6" fill="#00ff00"/>
<rect x="466.90" y="73.00" width="1.6" height="1.6" fill="#000000"/>
<rect x="466.20" y="75.20" width="1.6" height="1.6" fill="#000000"/>
<rect x="462.40" y="75.70" width="1.6" height="1.6" fill="#00ff00"/>
<rect x="417.70" y="75.70" width="1.6" height="1.6" fill="#00ff00"/>
<rect x="420.40" y="75.70" width="1.6" height="1.6" fill="#00ff00"/>
<rect x="427.20" y="75.70" width="1.6" height="1.6" fill="#000000"/>
<rect x="425.20" y="77.70" width="1.6" height="1.6" fill="#000000"/>
<rect x="439.40" y="75.70" width="1.6" height="1.6" fill="#000000"/>
<rect x="438.40" y="77.20" width="1.6" height="1.6" fill="#000000"/>
<rect x="447.70" y="77.70" width="1.6" height="1.6" fill="#000000"/>
<rect x="448.40" y="79.70" width="1.6" height="1.6" fill="#00ff00"/>
<rect x="451.70" y="78.20" width="1.6" height="1.6" fill="#000000"/>
<rect x="456.00" y="77.20" width="1.6" height="1.6" fill="#000000"/>
<rect x="459.20" y="78.70" width="1.6" height="1.6" fill="#000000"/>
<rect x="465.20" y="78.70" width="1.6" height="1.6" fill="#000000"/>
<rect x="457.70" y="80.70" width="1.6" height="1.6" fill="#000000"/>
<rect x="458.70" y="81.20" width="1.6" height="1.6" fill="#000000"/>
<rect x="430.00" y="82.00" width="1.6" height="1.6" fill="#00ff00"/>
<rect x="432.20" y="81.40" width="1.6" height="1.6" fill="#000000"/>
<rect x="443.00" y="81.70" width="1.6" height="1.6" fill="#000000"/>
<rect x="447.00" y="82.00" width="1.6" height="1.6" fill="#00ff00"/>
<rect x="445.70" y="83.20" width="1.6" height="1.6" fill="#00ff00"/>
<rect x="462.20" y="83.20" width="1.6" height="1.6" fill="#000000"/>
<rect x="464.70" y="83.40" width="1.6" height="1.6" fill="#ff0000"/>
<rect x="467.20" y="82.70" width="1.6" height="1.6" fill="#ff0000"/>
<rect x="458.20" y="84.70" width="1.6" height="1.6" fill="#ff0000"/>
<rect x="456.70" y="84.70" width="1.6" height="1.6" fill="#000000"/>
<rect x="460.20" y="85.20" width="1.6" height="1.6" fill="#000000"/>
<rect x="424.70" y="85.20" width="1.6" height="1.6" fill="#000000"/>
<rect x="436.70" y="85.40" width="1.6" height="1.6" fill="#000000"/>
<rect x="502.70" y="52.00" width="1.6" height="1.6" fill="#ff0000"/>
<rect x="509.20" y="52.40" width="1.6" height="1.6" fill="#ff0000"/>
<rect x="478.40" y="58.70" width="1.6" height="1.6" fill="#ff0000"/>
<rect x="485.40" y="58.00" width="1.6" height="1.6" fill="#ff0000"/>
<rect x="496.70" y="62.00" width="1.6" height="1.6" fill="#ff0000"/>
<rect x="482.20" y="63.20" width="1.6" height="1.6" fill="#ff0000"/>
<rect x="479.70" y="64.00" width="1.6" height="1.6" fill="#000000"/>
<rect x="486.40" y="63.40" width="1.6" height="1.6" fill="#000000"/>
<rect x="477.70" y="66.00" width="1.6" height="1.6" fill="#00ff00"/>
<rect x="495.20" y="67.20" width="1.6" height="1.6" fill="#ff0000"/>
<rect x="506.20" y="67.40" width="1.6" height="1.6" fill="#ff0000"/>
<rect x="488.40" y="68.20" width="1.6" height="1.6" fill="#000000"/>
<rect x="469.70" y="69.20" width="1.6" height="1.6" fill="#000000"/>
<rect x="471.20" y="71.70" width="1.6" height="1.6" fill="#000000"/>
<rect x="481.20" y="69.40" width="1.6" height="1.6" fill="#ff0000"/>
<rect x="482.00" y="70.70" width="1.6" height="1.6" fill="#ff0000"/>
<rect x="481.70" y="72.40" width="1.6" height="1.6" fill="#ff0000"/>
<rect x="484.20" y="72.70" width="1.6" height="1.6" fill="#000000"/>
<rect x="477.70" y="72.70" width="1.6" height="1.6" fill="#00ff00"/>
<rect x="493.70" y="70.00" width="1.6" height="1.6" fill="#ff0000"/>
<rect x="492.70" y="71.20" width="1.6" height="1.6" fill="#ff0000"/>
<rect x="491.70" y="72.00" width="1.6" height="1.6" fill="#ff0000"/>
<rect x="490.70" y="72.70" width="1.6" height="1.6" fill="#ff0000"/>
<rect x="503.00" y="72.40" width="1.6" height="1.6" fill="#ff0000"/>
<rect x="474.40" y="74.40" width="1.6" height="1.6" fill="#000000"/>
<rect x="490.00" y="76.20" width="1.6" height="1.6" fill="#ff0000"/>
<rect x="494.00" y="75.20" width="1.6" height="1.6" fill="#ff0000"/>
<rect x="496.20" y="76.00" width="1.6" height="1.6" fill="#ff0000"/>
<rect x="500.70" y="76.70" width="1.6" height="1.6" fill="#ff0000"/>
<rect x="511.70" y="75.40" width="1.6" height="1.6" fill="#ff0000"/>
<rect x="508.00" y="77.20" width="1.6" height="1.6" fill="#ff0000"/>
<rect x="471.70" y="77.00" width="1.6" height="1.6" fill="#00ff00"/>
<rect x="487.00" y="77.40" width="1.6" height="1.6" fill="#ff0000"/>
<rect x="490.20" y="79.00" width="1.6" height="1.6" fill="#ff0000"/>
<rect x="493.00" y="78.70" width="1.6" height="1.6" fill="#ff0000"/>
<rect x="496.40" y="79.20" width="1.6" height="1.6" fill="#ff0000"/>
<rect x="480.00" y="79.20" width="1.6" height="1.6" fill="#00ff00"/>
<rect x="477.20" y="80.70" width="1.6" height="1.6" fill="#ff0000"/>
<rect x="467.70" y="82.70" width="1.6" height="1.6" fill="#ff0000"/>
<rect x="479.00" y="82.40" width="1.6" height="1.6" fill="#000000"/>
<rect x="484.70" y="82.70" width="1.6" height="1.6" fill="#ff0000"/>
<rect x="474.20" y="83.70" width="1.6" height="1.6" fill="#00ff00"/>
<rect x="472.20" y="84.70" width="1.6" height="1.6" fill="#00ff00"/>
<rect x="479.20" y="84.00" width="1.6" height="1.6" fill="#000000"/>
<rect x="481.20" y="83.70" width="1.6" height="1.6" fill="#ff0000"/>
<rect x="490.20" y="84.40" width="1.6" height="1.6" fill="#000000"/>
<rect x="491.20" y="85.20" width="1.6" height="1.6" fill="#ff0000"/>
<rect x="495.20" y="85.70" width="1.6" height="1.6" fill="#ff0000"/>
<rect x="494.20" y="81.70" width="1.6" height="1.6" fill="#ff0000"/>
<rect x="405.00" y="89.20" width="1.6" height="1.6" fill="#000000"/>
<rect x="416.20" y="90.70" width="1.6" height="1.6" fill="#000000"/>
<rect x="415.70" y="97.20" width="1.6" height="1.6" fill="#00ff00"/>
<rect x="372.70" y="110.50" width="1.6" height="1.6" fill="#00ff00"/>
<rect x="375.70" y="116.20" width="1.6" height="1.6" fill="#00ff00"/>
<rect x="407.20" y="109.70" width="1.6" height="1.6" fill="#00ff00"/>
<rect x="391.20" y="120.70" width="1.6" height="1.6" fill="#000000"/>
<rect x="421.20" y="87.00" width="1.6" height="1.6" fill="#000000"/>
<rect x="426.70" y="88.70" width="1.6" height="1.6" fill="#000000"/>
<rect x="432.70" y="86.70" width="1.6" height="1.6" fill="#000000"/>
<rect x="434.40" y="88.40" width="1.6" height="1.6" fill="#00ff00"/>
<rect x="449.70" y="87.20" width="1.6" height="1.6" fill="#000000"/>
<rect x="461.20" y="87.00" width="1.6" height="1.6" fill="#000000"/>
<rect x="463.40" y="88.40" width="1.6" height="1.6" fill="#000000"/>
<rect x="418.70" y="92.20" width="1.6" height="1.6" fill="#000000"/>
<rect x="423.70" y="93.40" width="1.6" height="1.6" fill="#000000"/>
<rect x="433.00" y="92.40" width="1.6" height="1.6" fill="#000000"/>
<rect x="436.70" y="94.40" width="1.6" height="1.6" fill="#000000"/>
<rect x="436.40" y="96.70" width="1.6" height="1.6" fill="#00ff00"/>
<rect x="440.20" y="92.40" width="1.6" height="1.6" fill="#000000"/>
<rect x="440.00" y="93.20" width="1.6" height="1.6" fill="#000000"/>
<rect x="447.00" y="93.70" width="1.6" height="1.6" fill="#000000"/>
<rect x="450.20" y="91.00" width="1.6" height="1.6" fill="#000000"/>
<rect x="451.00" y="90.40" width="1.6" height="1.6" fill="#000000"/>
<rect x="453.70" y="90.70" width="1.6" height="1.6" fill="#000000"/>
<rect x="454.20" y="92.00" width="1.6" height="1.6" fill="#000000"/>
<rect x="462.20" y="90.40" width="1.6" height="1.6" fill="#000000"/>
<rect x="460.40" y="92.00" width="1.6" height="1.6" fill="#00ff00"/>
<rect x="468.00" y="93.40" width="1.6" height="1.6" fill="#000000"/>
<rect x="468.70" y="94.20" width="1.6" height="1.6" fill="#ff0000"/>
<rect x="433.20" y="96.70" width="1.6" height="1.6" fill="#000000"/>
<rect x="444.20" y="96.00" width="1.6" height="1.6" fill="#00ff00"/>
<rect x="445.00" y="96.40" width="1.6" height="1.6" fill="#00ff00"/>
<rect x="458.70" y="94.70" width="1.6" height="1.6" fill="#00ff00"/>
<rect x="456.70" y="96.00" width="1.6" height="1.6" fill="#000000"/>
<rect x="456.20" y="98.00" width="1.6" height="1.6" fill="#000000"/>
<rect x="460.20" y="99.40" width="1.6" height="1.6" fill="#000000"/>
<rect x="460.40" y="102.20" width="1.6" height="1.6" fill="#000000"/>
<rect x="458.20" y="102.40" width="1.6" height="1.6" fill="#00ff00"/>
<rect x="454.70" y="102.20" width="1.6" height="1.6" fill="#ff0000"/>
<rect x="455.70" y="105.00" width="1.6" height="1.6" fill="#ff0000"/>
<rect x="453.20" y="105.20" width="1.6" height="1.6" fill="#000000"/>
<rect x="467.70" y="101.70" width="1.6" height="1.6" fill="#ff0000"/>
<rect x="438.40" y="101.70" width="1.6" height="1.6" fill="#000000"/>
<rect x="429.20" y="103.20" width="1.6" height="1.6" fill="#000000"/>
<rect x="421.70" y="106.70" width="1.6" height="1.6" fill="#00ff00"/>
<rect x="433.70" y="107.70" width="1.6" height="1.6" fill="#000000"/>
<rect x="438.20" y="107.00" width="1.6" height="1.6" fill="#000000"/>
<rect x="439.70" y="110.00" width="1.6" height="1.6" fill="#000000"/>
<rect x="449.00" y="107.00" width="1.6" height="1.6" fill="#000000"/>
<rect x="467.20" y="105.70" width="1.6" height="1.6" fill="#00ff00"/>
<rect x="466.70" y="108.00" width="1.6" height="1.6" fill="#00ff00"/>
<rect x="466.00" y="110.00" width="1.6" height="1.6" fill="#000000"/>
<rect x="424.20" y="109.70" width="1.6" height="1.6" fill="#00ff00"/>
<rect x="425.00" y="110.20" width="1.6" height="1.6" fill="#000000"/>
<rect x="430.00" y="111.00" width="1.6" height="1.6" fill="#000000"/>
<rect x="455.70" y="110.20" width="1.6" height="1.6" fill="#ff0000"/>
<rect x="459.20" y="109.40" width="1.6" height="1.6" fill="#ff0000"/>
<rect x="459.20" y="111.20" width="1.6" height="1.6" fill="#00ff00"/>
<rect x="462.20" y="111.00" width="1.6" height="1.6" fill="#ff0000"/>
<rect x="431.70" y="115.00" width="1.6" height="1.6" fill="#00ff00"/>
<rect x="448.70" y="114.70" width="1.6" height="1.6" fill="#000000"/>
<rect x="436.20" y="118.00" width="1.6" height="1.6" fill="#000000"/>
<rect x="465.70" y="119.70" width="1.6" height="1.6" fill="#ff0000"/>
<rect x="460.20" y="121.70" width="1.6" height="1.6" fill="#000000"/>
<rect x="462.00" y="121.20" width="1.6" height="1.6" fill="#00ff00"/>
<rect x="461.20" y="122.70" width="1.6" height="1.6" fill="#00ff00"/>
<rect x="461.70" y="124.70" width="1.6" height="1.6" fill="#000000"/>
<rect x="451.20" y="125.20" width="1.6" height="1.6" fill="#00ff00"/>
<rect x="472.70" y="86.70" width="1.6" height="1.6" fill="#00ff00"/>
<rect x="482.20" y="89.00" width="1.6" height="1.6" fill="#000000"/>
<rect x="481.20" y="90.00" width="1.6" height="1.6" fill="#ff0000"/>
<rect x="474.70" y="90.70" width="1.6" height="1.6" fill="#ff0000"/>
<rect x="474.70" y="91.40" width="1.6" height="1.6" fill="#00ff00"/>
<rect x="478.20" y="91.00" width="1.6" height="1.6" fill="#ff0000"/>
<rect x="482.20" y="92.70" width="1.6" height="1.6" fill="#ff0000"/>
<rect x="491.70" y="86.70" width="1.6" height="1.6" fill="#ff0000"/>
<rect x="495.20" y="86.50" width="1.6" height="1.6" fill="#ff0000"/>
<rect x="491.20" y="90.20" width="1.6" height="1.6" fill="#ff0000"/>
<rect x="497.00" y="92.00" width="1.6" height="1.6" fill="#000000"/>
<rect x="492.70" y="93.40" width="1.6" height="1.6" fill="#ff0000"/>
<rect x="498.20" y="94.00" width="1.6" height="1.6" fill="#ff0000"/>
<rect x="500.70" y="94.20" width="1.6" height="1.6" fill="#ff0000"/>
<rect x="504.40" y="92.20" width="1.6" height="1.6" fill="#ff0000"/>
<rect x="486.20" y="95.20" width="1.6" height="1.6" fill="#ff0000"/>
<rect x="495.00" y="95.70" width="1.6" height="1.6" fill="#ff0000"/>
<rect x="490.70" y="97.70" width="1.6" height="1.6" fill="#ff0000"/>
<rect x="468.20" y="93.40" width="1.6" height="1.6" fill="#000000"/>
<rect x="470.20" y="93.40" width="1.6" height="1.6" fill="#000000"/>
<rect x="469.00" y="94.40" width="1.6" height="1.6" fill="#ff0000"/>
<rect x="473.40" y="98.70" width="1.6" height="1.6" fill="#00ff00"/>
<rect x="476.70" y="99.40" width="1.6" height="1.6" fill="#ff0000"/>
<rect x="484.20" y="100.00" width="1.6" height="1.6" fill="#000000"/>
<rect x="467.70" y="101.70" width="1.6" height="1.6" fill="#ff0000"/>
<rect x="480.20" y="101.70" width="1.6" height="1.6" fill="#ff0000"/>
<rect x="470.70" y="104.00" width="1.6" height="1.6" fill="#00ff00"/>
<rect x="472.20" y="103.40" width="1.6" height="1.6" fill="#00ff00"/>
<rect x="475.00" y="104.40" width="1.6" height="1.6" fill="#000000"/>
<rect x="479.70" y="104.70" width="1.6" height="1.6" fill="#ff0000"/>
<rect x="467.50" y="106.00" width="1.6" height="1.6" fill="#00ff00"/>
<rect x="472.70" y="107.20" width="1.6" height="1.6" fill="#ff0000"/>
<rect x="477.70" y="107.40" width="1.6" height="1.6" fill="#ff0000"/>
<rect x="486.20" y="110.00" width="1.6" height="1.6" fill="#ff0000"/>
<rect x="483.20" y="114.70" width="1.6" height="1.6" fill="#ff0000"/>
<rect x="476.20" y="117.40" width="1.6" height="1.6" fill="#000000"/>
<rect x="483.00" y="118.40" width="1.6" height="1.6" fill="#ff0000"/>
<rect x="472.40" y="121.20" width="1.6" height="1.6" fill="#000000"/>
<rect x="400.00" y="136.70" width="1.6" height="1.6" fill="#00ff00"/>
<rect x="401.00" y="139.20" width="1.6" height="1.6" fill="#00ff00"/>
<rect x="407.20" y="155.00" width="1.6" height="1.6" fill="#000000"/>
<rect x="463.40" y="131.70" width="1.6" height="1.6" fill="#000000"/>
<rect x="439.00" y="139.00" width="1.6" height="1.6" fill="#000000"/>
<rect x="440.20" y="140.40" width="1.6" height="1.6" fill="#00ff00"/>
<rect x="424.20" y="165.20" width="1.6" height="1.6" fill="#00ff00"/>
<rect x="472.70" y="135.40" width="1.6" height="1.6" fill="#ff0000"/>
<rect x="482.70" y="139.20" width="1.6" height="1.6" fill="#ff0000"/>
<rect x="472.40" y="155.20" width="1.6" height="1.6" fill="#ff0000"/>
<rect x="397.40" y="168.70" width="1.6" height="1.6" fill="#00ff00"/>
<line x1="373.50" y1="117.60" x2="512.50" y2="77.50" stroke="#4444ff" stroke-width="1.05"/>
<rect x="366.70" y="47.50" width="152.30" height="127.10" fill="none" stroke="#1a1a1a" stroke-width="1.5"/>
<line x1="378.35" y1="174.60" x2="378.35" y2="175.80" stroke="#333" stroke-width="0.6"/>
<text x="378.35" y="179.90" font-size="3.6" text-anchor="middle" fill="#333333" stroke="#333333" stroke-width="0.15">-3</text>
<line x1="406.00" y1="174.60" x2="406.00" y2="175.80" stroke="#333" stroke-width="0.6"/>
<text x="406.00" y="179.90" font-size="3.6" text-anchor="middle" fill="#333333" stroke="#333333" stroke-width="0.15">-2</text>
<line x1="433.65" y1="174.60" x2="433.65" y2="175.80" stroke="#333" stroke-width="0.6"/>
<text x="433.65" y="179.90" font-size="3.6" text-anchor="middle" fill="#333333" stroke="#333333" stroke-width="0.15">-1</text>
<line x1="461.30" y1="174.60" x2="461.30" y2="175.80" stroke="#333" stroke-width="0.6"/>
<text x="461.30" y="179.90" font-size="3.6" text-anchor="middle" fill="#333333" stroke="#333333" stroke-width="0.15">0</text>
<line x1="488.95" y1="174.60" x2="488.95" y2="175.80" stroke="#333" stroke-width="0.6"/>
<text x="488.95" y="179.90" font-size="3.6" text-anchor="middle" fill="#333333" stroke="#333333" stroke-width="0.15">1</text>
<line x1="516.60" y1="174.60" x2="516.60" y2="175.80" stroke="#333" stroke-width="0.6"/>
<text x="516.60" y="179.90" font-size="3.6" text-anchor="middle" fill="#333333" stroke="#333333" stroke-width="0.15">2</text>
<line x1="365.50" y1="52.16" x2="366.70" y2="52.16" stroke="#333" stroke-width="0.6"/>
<text x="364.70" y="53.56" font-size="3.6" text-anchor="end" fill="#333333" stroke="#333333" stroke-width="0.15">2</text>
<line x1="365.50" y1="92.20" x2="366.70" y2="92.20" stroke="#333" stroke-width="0.6"/>
<text x="364.70" y="93.60" font-size="3.6" text-anchor="end" fill="#333333" stroke="#333333" stroke-width="0.15">0</text>
<line x1="365.50" y1="132.24" x2="366.70" y2="132.24" stroke="#333" stroke-width="0.6"/>
<text x="364.70" y="133.64" font-size="3.6" text-anchor="end" fill="#333333" stroke="#333333" stroke-width="0.15">-2</text>
<line x1="365.50" y1="172.28" x2="366.70" y2="172.28" stroke="#333" stroke-width="0.6"/>
<text x="364.70" y="173.68" font-size="3.6" text-anchor="end" fill="#333333" stroke="#333333" stroke-width="0.15">-4</text>
<line x1="16.00" y1="269.50" x2="161.70" y2="269.50" stroke="#f3f3f3" stroke-width="0.5"/>
<line x1="16.00" y1="302.50" x2="161.70" y2="302.50" stroke="#f3f3f3" stroke-width="0.5"/>
<line x1="16.00" y1="335.50" x2="161.70" y2="335.50" stroke="#f3f3f3" stroke-width="0.5"/>
<line x1="16.00" y1="368.50" x2="161.70" y2="368.50" stroke="#f3f3f3" stroke-width="0.5"/>
<line x1="41.30" y1="250.70" x2="41.30" y2="391.00" stroke="#ebebeb" stroke-width="0.7"/>
<line x1="88.70" y1="250.70" x2="88.70" y2="391.00" stroke="#ebebeb" stroke-width="0.7"/>
<line x1="136.30" y1="250.70" x2="136.30" y2="391.00" stroke="#ebebeb" stroke-width="0.7"/>
<line x1="16.00" y1="253.00" x2="161.70" y2="253.00" stroke="#ebebeb" stroke-width="0.7"/>
<line x1="16.00" y1="286.00" x2="161.70" y2="286.00" stroke="#ebebeb" stroke-width="0.7"/>
<line x1="16.00" y1="319.00" x2="161.70" y2="319.00" stroke="#ebebeb" stroke-width="0.7"/>
<line x1="16.00" y1="352.00" x2="161.70" y2="352.00" stroke="#ebebeb" stroke-width="0.7"/>
<line x1="16.00" y1="385.00" x2="161.70" y2="385.00" stroke="#ebebeb" stroke-width="0.7"/>
<line x1="41.30" y1="277.70" x2="41.30" y2="299.20" stroke="#1a1a1a" stroke-width="1.2"/>
<line x1="41.30" y1="319.70" x2="41.30" y2="334.60" stroke="#1a1a1a" stroke-width="1.2"/>
<rect x="23.30" y="299.20" width="36.00" height="20.50" fill="white" stroke="#1a1a1a" stroke-width="1.25"/>
<line x1="23.30" y1="307.10" x2="59.30" y2="307.10" stroke="#1a1a1a" stroke-width="1.7"/>
<line x1="88.70" y1="290.00" x2="88.70" y2="307.50" stroke="#1a1a1a" stroke-width="1.2"/>
<line x1="88.70" y1="326.25" x2="88.70" y2="351.25" stroke="#1a1a1a" stroke-width="1.2"/>
<rect x="70.70" y="307.50" width="36.00" height="18.75" fill="white" stroke="#1a1a1a" stroke-width="1.25"/>
<line x1="70.70" y1="321.75" x2="106.70" y2="321.75" stroke="#1a1a1a" stroke-width="1.7"/>
<line x1="136.30" y1="280.50" x2="136.30" y2="307.00" stroke="#1a1a1a" stroke-width="1.2"/>
<line x1="136.30" y1="325.00" x2="136.30" y2="341.25" stroke="#1a1a1a" stroke-width="1.2"/>
<rect x="118.30" y="307.00" width="36.00" height="18.00" fill="white" stroke="#1a1a1a" stroke-width="1.25"/>
<line x1="118.30" y1="319.00" x2="154.30" y2="319.00" stroke="#1a1a1a" stroke-width="1.7"/>
<circle cx="37.50" cy="255.00" r="0.72" fill="#ff0000"/>
<circle cx="38.75" cy="255.75" r="0.72" fill="#ff0000"/>
<circle cx="39.75" cy="255.40" r="0.72" fill="#ff0000"/>
<circle cx="41.25" cy="254.00" r="0.72" fill="#ff0000"/>
<circle cx="41.40" cy="255.25" r="0.72" fill="#ff0000"/>
<circle cx="41.50" cy="256.50" r="0.72" fill="#ff0000"/>
<circle cx="44.75" cy="253.90" r="0.72" fill="#ff0000"/>
<circle cx="37.50" cy="258.25" r="0.72" fill="#ff0000"/>
<circle cx="40.50" cy="258.25" r="0.72" fill="#ff0000"/>
<circle cx="41.60" cy="258.25" r="0.72" fill="#ff0000"/>
<circle cx="36.00" cy="277.80" r="0.72" fill="#ff0000"/>
<circle cx="34.50" cy="296.80" r="0.72" fill="#ff0000"/>
<circle cx="34.20" cy="299.20" r="0.72" fill="#ff0000"/>
<circle cx="45.80" cy="299.20" r="0.72" fill="#ff0000"/>
<circle cx="34.80" cy="302.80" r="0.72" fill="#ff0000"/>
<circle cx="40.50" cy="301.20" r="0.72" fill="#ff0000"/>
<circle cx="42.50" cy="302.00" r="0.72" fill="#ff0000"/>
<circle cx="39.50" cy="304.50" r="0.72" fill="#ff0000"/>
<circle cx="38.20" cy="306.20" r="0.72" fill="#ff0000"/>
<circle cx="47.20" cy="305.50" r="0.72" fill="#ff0000"/>
<circle cx="41.80" cy="307.50" r="0.72" fill="#ff0000"/>
<circle cx="46.20" cy="308.00" r="0.72" fill="#ff0000"/>
<circle cx="42.00" cy="307.80" r="0.72" fill="#ff0000"/>
<circle cx="45.50" cy="311.50" r="0.72" fill="#ff0000"/>
<circle cx="43.80" cy="313.50" r="0.72" fill="#ff0000"/>
<circle cx="46.20" cy="314.50" r="0.72" fill="#ff0000"/>
<circle cx="34.50" cy="317.00" r="0.72" fill="#ff0000"/>
<circle cx="41.50" cy="317.50" r="0.72" fill="#ff0000"/>
<circle cx="39.50" cy="319.80" r="0.72" fill="#ff0000"/>
<circle cx="42.20" cy="320.80" r="0.72" fill="#ff0000"/>
<circle cx="34.50" cy="322.50" r="0.72" fill="#ff0000"/>
<circle cx="47.80" cy="322.50" r="0.72" fill="#ff0000"/>
<circle cx="38.20" cy="326.80" r="0.72" fill="#ff0000"/>
<circle cx="44.80" cy="326.50" r="0.72" fill="#ff0000"/>
<circle cx="47.20" cy="325.50" r="0.72" fill="#ff0000"/>
<circle cx="40.00" cy="334.80" r="0.72" fill="#ff0000"/>
<circle cx="40.70" cy="387.50" r="0.72" fill="#ff0000"/>
<circle cx="43.80" cy="387.50" r="0.72" fill="#ff0000"/>
<circle cx="83.20" cy="289.70" r="0.72" fill="#ff0000"/>
<circle cx="81.80" cy="296.20" r="0.72" fill="#ff0000"/>
<circle cx="89.00" cy="298.80" r="0.72" fill="#ff0000"/>
<circle cx="93.20" cy="297.80" r="0.72" fill="#ff0000"/>
<circle cx="95.50" cy="300.00" r="0.72" fill="#ff0000"/>
<circle cx="83.80" cy="302.80" r="0.72" fill="#ff0000"/>
<circle cx="82.50" cy="305.20" r="0.72" fill="#ff0000"/>
<circle cx="81.80" cy="314.80" r="0.72" fill="#ff0000"/>
<circle cx="87.50" cy="316.80" r="0.72" fill="#ff0000"/>
<circle cx="86.80" cy="318.50" r="0.72" fill="#ff0000"/>
<circle cx="89.20" cy="319.50" r="0.72" fill="#ff0000"/>
<circle cx="86.50" cy="318.80" r="0.72" fill="#ff0000"/>
<circle cx="89.20" cy="320.00" r="0.72" fill="#ff0000"/>
<circle cx="82.50" cy="320.50" r="0.72" fill="#ff0000"/>
<circle cx="85.80" cy="321.80" r="0.72" fill="#ff0000"/>
<circle cx="87.20" cy="321.50" r="0.72" fill="#ff0000"/>
<circle cx="84.00" cy="323.80" r="0.72" fill="#ff0000"/>
<circle cx="90.20" cy="324.50" r="0.72" fill="#ff0000"/>
<circle cx="87.80" cy="325.80" r="0.72" fill="#ff0000"/>
<circle cx="90.00" cy="327.00" r="0.72" fill="#ff0000"/>
<circle cx="86.80" cy="328.50" r="0.72" fill="#ff0000"/>
<circle cx="89.20" cy="331.00" r="0.72" fill="#ff0000"/>
<circle cx="84.50" cy="331.50" r="0.72" fill="#ff0000"/>
<circle cx="83.20" cy="335.50" r="0.72" fill="#ff0000"/>
<circle cx="91.80" cy="338.80" r="0.72" fill="#ff0000"/>
<circle cx="86.20" cy="351.20" r="0.72" fill="#ff0000"/>
<circle cx="137.50" cy="280.20" r="0.72" fill="#ff0000"/>
<circle cx="137.00" cy="286.50" r="0.72" fill="#ff0000"/>
<circle cx="130.80" cy="295.00" r="0.72" fill="#ff0000"/>
<circle cx="141.50" cy="296.00" r="0.72" fill="#ff0000"/>
<circle cx="131.00" cy="298.80" r="0.72" fill="#ff0000"/>
<circle cx="135.20" cy="298.20" r="0.72" fill="#ff0000"/>
<circle cx="136.50" cy="300.50" r="0.72" fill="#ff0000"/>
<circle cx="140.20" cy="299.50" r="0.72" fill="#ff0000"/>
<circle cx="130.80" cy="302.50" r="0.72" fill="#ff0000"/>
<circle cx="134.20" cy="306.80" r="0.72" fill="#ff0000"/>
<circle cx="139.00" cy="307.20" r="0.72" fill="#ff0000"/>
<circle cx="141.20" cy="306.20" r="0.72" fill="#ff0000"/>
<circle cx="129.20" cy="309.50" r="0.72" fill="#ff0000"/>
<circle cx="131.00" cy="310.20" r="0.72" fill="#ff0000"/>
<circle cx="132.50" cy="312.50" r="0.72" fill="#ff0000"/>
<circle cx="136.80" cy="312.00" r="0.72" fill="#ff0000"/>
<circle cx="139.00" cy="313.50" r="0.72" fill="#ff0000"/>
<circle cx="140.80" cy="314.00" r="0.72" fill="#ff0000"/>
<circle cx="142.20" cy="313.80" r="0.72" fill="#ff0000"/>
<circle cx="129.00" cy="314.20" r="0.72" fill="#ff0000"/>
<circle cx="131.50" cy="314.50" r="0.72" fill="#ff0000"/>
<circle cx="129.00" cy="318.80" r="0.72" fill="#ff0000"/>
<circle cx="134.50" cy="319.50" r="0.72" fill="#ff0000"/>
<circle cx="138.20" cy="320.50" r="0.72" fill="#ff0000"/>
<circle cx="129.50" cy="321.50" r="0.72" fill="#ff0000"/>
<circle cx="135.80" cy="322.20" r="0.72" fill="#ff0000"/>
<circle cx="137.50" cy="322.80" r="0.72" fill="#ff0000"/>
<circle cx="142.00" cy="322.00" r="0.72" fill="#ff0000"/>
<circle cx="131.50" cy="323.50" r="0.72" fill="#ff0000"/>
<circle cx="139.80" cy="323.80" r="0.72" fill="#ff0000"/>
<circle cx="130.50" cy="324.80" r="0.72" fill="#ff0000"/>
<circle cx="133.20" cy="325.50" r="0.72" fill="#ff0000"/>
<circle cx="136.50" cy="325.20" r="0.72" fill="#ff0000"/>
<circle cx="140.00" cy="325.80" r="0.72" fill="#ff0000"/>
<circle cx="141.80" cy="324.50" r="0.72" fill="#ff0000"/>
<circle cx="135.80" cy="327.50" r="0.72" fill="#ff0000"/>
<circle cx="138.00" cy="327.50" r="0.72" fill="#ff0000"/>
<circle cx="142.80" cy="327.80" r="0.72" fill="#ff0000"/>
<circle cx="129.20" cy="328.80" r="0.72" fill="#ff0000"/>
<circle cx="130.50" cy="339.80" r="0.72" fill="#ff0000"/>
<circle cx="136.50" cy="341.20" r="0.72" fill="#ff0000"/>
<circle cx="129.50" cy="365.80" r="0.72" fill="#ff0000"/>
<circle cx="136.00" cy="365.80" r="0.72" fill="#ff0000"/>
<rect x="13.50" y="247.90" width="150.70" height="145.60" fill="none" stroke="#1a1a1a" stroke-width="1.5"/>
<line x1="12.30" y1="253.00" x2="13.50" y2="253.00" stroke="#333" stroke-width="0.6"/>
<text x="11.20" y="255.20" font-size="3.4" text-anchor="end" fill="#333333" stroke="#333333" stroke-width="0.15">4.2</text>
<line x1="12.30" y1="286.00" x2="13.50" y2="286.00" stroke="#333" stroke-width="0.6"/>
<text x="11.20" y="288.20" font-size="3.4" text-anchor="end" fill="#333333" stroke="#333333" stroke-width="0.15">4.0</text>
<line x1="12.30" y1="319.00" x2="13.50" y2="319.00" stroke="#333" stroke-width="0.6"/>
<text x="11.20" y="321.20" font-size="3.4" text-anchor="end" fill="#333333" stroke="#333333" stroke-width="0.15">3.8</text>
<line x1="12.30" y1="352.00" x2="13.50" y2="352.00" stroke="#333" stroke-width="0.6"/>
<text x="11.20" y="354.20" font-size="3.4" text-anchor="end" fill="#333333" stroke="#333333" stroke-width="0.15">3.6</text>
<line x1="12.30" y1="385.00" x2="13.50" y2="385.00" stroke="#333" stroke-width="0.6"/>
<text x="11.20" y="387.20" font-size="3.4" text-anchor="end" fill="#333333" stroke="#333333" stroke-width="0.15">3.4</text>
<line x1="41.30" y1="393.50" x2="41.30" y2="394.70" stroke="#333" stroke-width="0.6"/>
<text x="41.30" y="399.10" font-size="4.2" text-anchor="middle" fill="#333333" stroke="#333333" stroke-width="0.15">Hypoxia</text>
<line x1="88.70" y1="393.50" x2="88.70" y2="394.70" stroke="#333" stroke-width="0.6"/>
<text x="88.70" y="399.10" font-size="4.2" text-anchor="middle" fill="#333333" stroke="#333333" stroke-width="0.15">Immune</text>
<line x1="136.30" y1="393.50" x2="136.30" y2="394.70" stroke="#333" stroke-width="0.6"/>
<text x="136.30" y="399.10" font-size="4.2" text-anchor="middle" fill="#333333" stroke="#333333" stroke-width="0.15">Mixture</text>
<line x1="194.80" y1="265.10" x2="340.90" y2="265.10" stroke="#f3f3f3" stroke-width="0.5"/>
<line x1="194.80" y1="307.90" x2="340.90" y2="307.90" stroke="#f3f3f3" stroke-width="0.5"/>
<line x1="194.80" y1="350.70" x2="340.90" y2="350.70" stroke="#f3f3f3" stroke-width="0.5"/>
<line x1="194.80" y1="393.50" x2="340.90" y2="393.50" stroke="#f3f3f3" stroke-width="0.5"/>
<line x1="220.40" y1="250.70" x2="220.40" y2="391.00" stroke="#ebebeb" stroke-width="0.7"/>
<line x1="267.85" y1="250.70" x2="267.85" y2="391.00" stroke="#ebebeb" stroke-width="0.7"/>
<line x1="315.30" y1="250.70" x2="315.30" y2="391.00" stroke="#ebebeb" stroke-width="0.7"/>
<line x1="194.80" y1="286.50" x2="340.90" y2="286.50" stroke="#ebebeb" stroke-width="0.7"/>
<line x1="194.80" y1="329.30" x2="340.90" y2="329.30" stroke="#ebebeb" stroke-width="0.7"/>
<line x1="194.80" y1="372.10" x2="340.90" y2="372.10" stroke="#ebebeb" stroke-width="0.7"/>
<line x1="220.40" y1="289.00" x2="220.40" y2="317.20" stroke="#1a1a1a" stroke-width="1.2"/>
<line x1="220.40" y1="337.70" x2="220.40" y2="354.50" stroke="#1a1a1a" stroke-width="1.2"/>
<rect x="202.40" y="317.20" width="36.00" height="20.50" fill="white" stroke="#1a1a1a" stroke-width="1.25"/>
<line x1="202.40" y1="328.10" x2="238.40" y2="328.10" stroke="#1a1a1a" stroke-width="1.7"/>
<line x1="267.85" y1="324.30" x2="267.85" y2="336.10" stroke="#1a1a1a" stroke-width="1.2"/>
<line x1="267.85" y1="350.30" x2="267.85" y2="370.20" stroke="#1a1a1a" stroke-width="1.2"/>
<rect x="249.85" y="336.10" width="36.00" height="14.20" fill="white" stroke="#1a1a1a" stroke-width="1.25"/>
<line x1="249.85" y1="345.00" x2="285.85" y2="345.00" stroke="#1a1a1a" stroke-width="1.7"/>
<line x1="315.30" y1="320.00" x2="315.30" y2="335.20" stroke="#1a1a1a" stroke-width="1.2"/>
<line x1="315.30" y1="351.30" x2="315.30" y2="370.20" stroke="#1a1a1a" stroke-width="1.2"/>
<rect x="297.30" y="335.20" width="36.00" height="16.10" fill="white" stroke="#1a1a1a" stroke-width="1.25"/>
<line x1="297.30" y1="344.90" x2="333.30" y2="344.90" stroke="#1a1a1a" stroke-width="1.7"/>
<circle cx="216.90" cy="253.90" r="0.72" fill="#ff0000"/>
<circle cx="220.40" cy="253.90" r="0.72" fill="#ff0000"/>
<circle cx="218.50" cy="268.00" r="0.72" fill="#ff0000"/>
<circle cx="220.40" cy="268.00" r="0.72" fill="#ff0000"/>
<circle cx="218.50" cy="272.10" r="0.72" fill="#ff0000"/>
<circle cx="220.40" cy="272.10" r="0.72" fill="#ff0000"/>
<circle cx="219.10" cy="277.00" r="0.72" fill="#ff0000"/>
<circle cx="220.00" cy="276.30" r="0.72" fill="#ff0000"/>
<circle cx="220.40" cy="276.90" r="0.72" fill="#ff0000"/>
<circle cx="223.40" cy="276.30" r="0.72" fill="#ff0000"/>
<circle cx="227.50" cy="288.80" r="0.72" fill="#ff0000"/>
<circle cx="220.80" cy="307.20" r="0.72" fill="#ff0000"/>
<circle cx="216.50" cy="309.50" r="0.72" fill="#ff0000"/>
<circle cx="213.50" cy="318.00" r="0.72" fill="#ff0000"/>
<circle cx="216.50" cy="317.20" r="0.72" fill="#ff0000"/>
<circle cx="218.50" cy="319.50" r="0.72" fill="#ff0000"/>
<circle cx="226.20" cy="322.20" r="0.72" fill="#ff0000"/>
<circle cx="217.80" cy="323.50" r="0.72" fill="#ff0000"/>
<circle cx="223.80" cy="325.20" r="0.72" fill="#ff0000"/>
<circle cx="216.00" cy="326.00" r="0.72" fill="#ff0000"/>
<circle cx="215.50" cy="327.80" r="0.72" fill="#ff0000"/>
<circle cx="224.00" cy="328.00" r="0.72" fill="#ff0000"/>
<circle cx="215.50" cy="331.50" r="0.72" fill="#ff0000"/>
<circle cx="216.20" cy="332.20" r="0.72" fill="#ff0000"/>
<circle cx="222.20" cy="331.20" r="0.72" fill="#ff0000"/>
<circle cx="213.50" cy="335.20" r="0.72" fill="#ff0000"/>
<circle cx="219.80" cy="335.00" r="0.72" fill="#ff0000"/>
<circle cx="223.80" cy="335.00" r="0.72" fill="#ff0000"/>
<circle cx="225.00" cy="334.50" r="0.72" fill="#ff0000"/>
<circle cx="227.20" cy="337.80" r="0.72" fill="#ff0000"/>
<circle cx="214.50" cy="338.80" r="0.72" fill="#ff0000"/>
<circle cx="216.80" cy="340.20" r="0.72" fill="#ff0000"/>
<circle cx="216.00" cy="345.20" r="0.72" fill="#ff0000"/>
<circle cx="219.50" cy="345.20" r="0.72" fill="#ff0000"/>
<circle cx="226.80" cy="346.80" r="0.72" fill="#ff0000"/>
<circle cx="226.50" cy="348.00" r="0.72" fill="#ff0000"/>
<circle cx="221.80" cy="354.50" r="0.72" fill="#ff0000"/>
<circle cx="220.20" cy="387.50" r="0.72" fill="#ff0000"/>
<circle cx="222.50" cy="387.50" r="0.72" fill="#ff0000"/>
<circle cx="263.50" cy="324.20" r="0.72" fill="#ff0000"/>
<circle cx="264.80" cy="327.20" r="0.72" fill="#ff0000"/>
<circle cx="260.80" cy="328.80" r="0.72" fill="#ff0000"/>
<circle cx="266.80" cy="329.80" r="0.72" fill="#ff0000"/>
<circle cx="263.50" cy="332.80" r="0.72" fill="#ff0000"/>
<circle cx="266.50" cy="335.80" r="0.72" fill="#ff0000"/>
<circle cx="270.50" cy="338.00" r="0.72" fill="#ff0000"/>
<circle cx="266.50" cy="339.00" r="0.72" fill="#ff0000"/>
<circle cx="274.20" cy="340.80" r="0.72" fill="#ff0000"/>
<circle cx="268.20" cy="342.00" r="0.72" fill="#ff0000"/>
<circle cx="269.20" cy="342.20" r="0.72" fill="#ff0000"/>
<circle cx="269.20" cy="344.50" r="0.72" fill="#ff0000"/>
<circle cx="265.80" cy="346.80" r="0.72" fill="#ff0000"/>
<circle cx="272.00" cy="347.20" r="0.72" fill="#ff0000"/>
<circle cx="269.50" cy="348.80" r="0.72" fill="#ff0000"/>
<circle cx="264.00" cy="349.50" r="0.72" fill="#ff0000"/>
<circle cx="262.50" cy="350.20" r="0.72" fill="#ff0000"/>
<circle cx="265.50" cy="351.20" r="0.72" fill="#ff0000"/>
<circle cx="270.20" cy="354.50" r="0.72" fill="#ff0000"/>
<circle cx="274.20" cy="358.50" r="0.72" fill="#ff0000"/>
<circle cx="265.50" cy="361.50" r="0.72" fill="#ff0000"/>
<circle cx="272.80" cy="363.20" r="0.72" fill="#ff0000"/>
<circle cx="262.50" cy="370.50" r="0.72" fill="#ff0000"/>
<circle cx="315.20" cy="307.80" r="0.72" fill="#ff0000"/>
<circle cx="319.00" cy="307.80" r="0.72" fill="#ff0000"/>
<circle cx="321.00" cy="319.80" r="0.72" fill="#ff0000"/>
<circle cx="320.50" cy="321.20" r="0.72" fill="#ff0000"/>
<circle cx="312.80" cy="323.20" r="0.72" fill="#ff0000"/>
<circle cx="321.80" cy="323.50" r="0.72" fill="#ff0000"/>
<circle cx="309.20" cy="326.50" r="0.72" fill="#ff0000"/>
<circle cx="314.50" cy="326.50" r="0.72" fill="#ff0000"/>
<circle cx="319.80" cy="325.80" r="0.72" fill="#ff0000"/>
<circle cx="311.50" cy="328.20" r="0.72" fill="#ff0000"/>
<circle cx="310.00" cy="330.50" r="0.72" fill="#ff0000"/>
<circle cx="309.00" cy="332.50" r="0.72" fill="#ff0000"/>
<circle cx="317.80" cy="333.00" r="0.72" fill="#ff0000"/>
<circle cx="311.00" cy="335.00" r="0.72" fill="#ff0000"/>
<circle cx="308.50" cy="336.50" r="0.72" fill="#ff0000"/>
<circle cx="308.20" cy="338.20" r="0.72" fill="#ff0000"/>
<circle cx="314.50" cy="339.00" r="0.72" fill="#ff0000"/>
<circle cx="317.20" cy="338.80" r="0.72" fill="#ff0000"/>
<circle cx="320.00" cy="337.80" r="0.72" fill="#ff0000"/>
<circle cx="320.80" cy="340.00" r="0.72" fill="#ff0000"/>
<circle cx="310.50" cy="342.50" r="0.72" fill="#ff0000"/>
<circle cx="311.80" cy="344.20" r="0.72" fill="#ff0000"/>
<circle cx="316.80" cy="344.80" r="0.72" fill="#ff0000"/>
<circle cx="320.20" cy="344.80" r="0.72" fill="#ff0000"/>
<circle cx="314.00" cy="347.80" r="0.72" fill="#ff0000"/>
<circle cx="314.80" cy="347.50" r="0.72" fill="#ff0000"/>
<circle cx="317.80" cy="347.80" r="0.72" fill="#ff0000"/>
<circle cx="318.80" cy="348.50" r="0.72" fill="#ff0000"/>
<circle cx="312.80" cy="349.20" r="0.72" fill="#ff0000"/>
<circle cx="309.00" cy="349.50" r="0.72" fill="#ff0000"/>
<circle cx="309.50" cy="350.80" r="0.72" fill="#ff0000"/>
<circle cx="315.80" cy="351.20" r="0.72" fill="#ff0000"/>
<circle cx="316.80" cy="351.50" r="0.72" fill="#ff0000"/>
<circle cx="322.20" cy="351.20" r="0.72" fill="#ff0000"/>
<circle cx="312.50" cy="353.50" r="0.72" fill="#ff0000"/>
<circle cx="319.20" cy="353.50" r="0.72" fill="#ff0000"/>
<circle cx="319.80" cy="354.80" r="0.72" fill="#ff0000"/>
<circle cx="313.20" cy="355.80" r="0.72" fill="#ff0000"/>
<circle cx="312.50" cy="357.50" r="0.72" fill="#ff0000"/>
<circle cx="309.50" cy="358.80" r="0.72" fill="#ff0000"/>
<circle cx="308.50" cy="359.50" r="0.72" fill="#ff0000"/>
<circle cx="317.20" cy="359.50" r="0.72" fill="#ff0000"/>
<circle cx="319.00" cy="360.20" r="0.72" fill="#ff0000"/>
<circle cx="314.80" cy="370.50" r="0.72" fill="#ff0000"/>
<rect x="192.30" y="247.90" width="151.10" height="145.60" fill="none" stroke="#1a1a1a" stroke-width="1.5"/>
<line x1="191.10" y1="286.50" x2="192.30" y2="286.50" stroke="#333" stroke-width="0.6"/>
<text x="190.00" y="287.80" font-size="3.4" text-anchor="end" fill="#333333" stroke="#333333" stroke-width="0.15">4.9</text>
<line x1="191.10" y1="329.30" x2="192.30" y2="329.30" stroke="#333" stroke-width="0.6"/>
<text x="190.00" y="330.60" font-size="3.4" text-anchor="end" fill="#333333" stroke="#333333" stroke-width="0.15">4.8</text>
<line x1="191.10" y1="372.10" x2="192.30" y2="372.10" stroke="#333" stroke-width="0.6"/>
<text x="190.00" y="373.40" font-size="3.4" text-anchor="end" fill="#333333" stroke="#333333" stroke-width="0.15">4.7</text>
<line x1="220.40" y1="393.50" x2="220.40" y2="394.70" stroke="#333" stroke-width="0.6"/>
<text x="220.40" y="399.10" font-size="4.2" text-anchor="middle" fill="#333333" stroke="#333333" stroke-width="0.15">Hypoxia</text>
<line x1="267.85" y1="393.50" x2="267.85" y2="394.70" stroke="#333" stroke-width="0.6"/>
<text x="267.85" y="399.10" font-size="4.2" text-anchor="middle" fill="#333333" stroke="#333333" stroke-width="0.15">Immune</text>
<line x1="315.30" y1="393.50" x2="315.30" y2="394.70" stroke="#333" stroke-width="0.6"/>
<text x="315.30" y="399.10" font-size="4.2" text-anchor="middle" fill="#333333" stroke="#333333" stroke-width="0.15">Mixture</text>
<line x1="372.50" y1="255.45" x2="516.30" y2="255.45" stroke="#f3f3f3" stroke-width="0.5"/>
<line x1="372.50" y1="286.95" x2="516.30" y2="286.95" stroke="#f3f3f3" stroke-width="0.5"/>
<line x1="372.50" y1="318.45" x2="516.30" y2="318.45" stroke="#f3f3f3" stroke-width="0.5"/>
<line x1="372.50" y1="349.95" x2="516.30" y2="349.95" stroke="#f3f3f3" stroke-width="0.5"/>
<line x1="372.50" y1="381.45" x2="516.30" y2="381.45" stroke="#f3f3f3" stroke-width="0.5"/>
<line x1="397.70" y1="250.80" x2="397.70" y2="391.00" stroke="#ebebeb" stroke-width="0.7"/>
<line x1="444.50" y1="250.80" x2="444.50" y2="391.00" stroke="#ebebeb" stroke-width="0.7"/>
<line x1="491.30" y1="250.80" x2="491.30" y2="391.00" stroke="#ebebeb" stroke-width="0.7"/>
<line x1="372.50" y1="271.20" x2="516.30" y2="271.20" stroke="#ebebeb" stroke-width="0.7"/>
<line x1="372.50" y1="302.70" x2="516.30" y2="302.70" stroke="#ebebeb" stroke-width="0.7"/>
<line x1="372.50" y1="334.20" x2="516.30" y2="334.20" stroke="#ebebeb" stroke-width="0.7"/>
<line x1="372.50" y1="365.70" x2="516.30" y2="365.70" stroke="#ebebeb" stroke-width="0.7"/>
<line x1="397.70" y1="304.20" x2="397.70" y2="332.20" stroke="#1a1a1a" stroke-width="1.2"/>
<line x1="397.70" y1="354.00" x2="397.70" y2="362.50" stroke="#1a1a1a" stroke-width="1.2"/>
<rect x="379.70" y="332.20" width="36.00" height="21.80" fill="white" stroke="#1a1a1a" stroke-width="1.25"/>
<line x1="379.70" y1="343.70" x2="415.70" y2="343.70" stroke="#1a1a1a" stroke-width="1.7"/>
<line x1="444.50" y1="337.20" x2="444.50" y2="348.50" stroke="#1a1a1a" stroke-width="1.2"/>
<line x1="444.50" y1="361.50" x2="444.50" y2="377.20" stroke="#1a1a1a" stroke-width="1.2"/>
<rect x="426.50" y="348.50" width="36.00" height="13.00" fill="white" stroke="#1a1a1a" stroke-width="1.25"/>
<line x1="426.50" y1="354.10" x2="462.50" y2="354.10" stroke="#1a1a1a" stroke-width="1.7"/>
<line x1="491.30" y1="332.20" x2="491.30" y2="348.30" stroke="#1a1a1a" stroke-width="1.2"/>
<line x1="491.30" y1="360.20" x2="491.30" y2="377.50" stroke="#1a1a1a" stroke-width="1.2"/>
<rect x="473.30" y="348.30" width="36.00" height="11.90" fill="white" stroke="#1a1a1a" stroke-width="1.25"/>
<line x1="473.30" y1="354.00" x2="509.30" y2="354.00" stroke="#1a1a1a" stroke-width="1.7"/>
<circle cx="397.50" cy="254.00" r="0.72" fill="#ff0000"/>
<circle cx="401.00" cy="254.00" r="0.72" fill="#ff0000"/>
<circle cx="393.00" cy="282.80" r="0.72" fill="#ff0000"/>
<circle cx="397.50" cy="282.80" r="0.72" fill="#ff0000"/>
<circle cx="395.80" cy="304.00" r="0.72" fill="#ff0000"/>
<circle cx="396.00" cy="305.00" r="0.72" fill="#ff0000"/>
<circle cx="396.20" cy="308.80" r="0.72" fill="#ff0000"/>
<circle cx="403.50" cy="325.20" r="0.72" fill="#ff0000"/>
<circle cx="404.00" cy="326.80" r="0.72" fill="#ff0000"/>
<circle cx="390.80" cy="332.00" r="0.72" fill="#ff0000"/>
<circle cx="401.80" cy="331.50" r="0.72" fill="#ff0000"/>
<circle cx="390.80" cy="335.50" r="0.72" fill="#ff0000"/>
<circle cx="396.80" cy="334.00" r="0.72" fill="#ff0000"/>
<circle cx="395.80" cy="336.80" r="0.72" fill="#ff0000"/>
<circle cx="403.80" cy="335.80" r="0.72" fill="#ff0000"/>
<circle cx="398.50" cy="339.00" r="0.72" fill="#ff0000"/>
<circle cx="395.20" cy="340.50" r="0.72" fill="#ff0000"/>
<circle cx="404.20" cy="340.50" r="0.72" fill="#ff0000"/>
<circle cx="402.50" cy="343.80" r="0.72" fill="#ff0000"/>
<circle cx="393.80" cy="346.20" r="0.72" fill="#ff0000"/>
<circle cx="397.00" cy="345.50" r="0.72" fill="#ff0000"/>
<circle cx="398.20" cy="347.20" r="0.72" fill="#ff0000"/>
<circle cx="396.00" cy="348.50" r="0.72" fill="#ff0000"/>
<circle cx="393.50" cy="352.50" r="0.72" fill="#ff0000"/>
<circle cx="398.50" cy="353.80" r="0.72" fill="#ff0000"/>
<circle cx="403.00" cy="352.00" r="0.72" fill="#ff0000"/>
<circle cx="392.00" cy="357.80" r="0.72" fill="#ff0000"/>
<circle cx="391.80" cy="359.50" r="0.72" fill="#ff0000"/>
<circle cx="396.50" cy="358.50" r="0.72" fill="#ff0000"/>
<circle cx="401.80" cy="357.20" r="0.72" fill="#ff0000"/>
<circle cx="400.50" cy="360.00" r="0.72" fill="#ff0000"/>
<circle cx="390.50" cy="362.80" r="0.72" fill="#ff0000"/>
<circle cx="403.00" cy="362.80" r="0.72" fill="#ff0000"/>
<circle cx="397.50" cy="387.50" r="0.72" fill="#ff0000"/>
<circle cx="401.80" cy="387.50" r="0.72" fill="#ff0000"/>
<circle cx="444.50" cy="337.20" r="0.72" fill="#ff0000"/>
<circle cx="439.50" cy="340.00" r="0.72" fill="#ff0000"/>
<circle cx="440.00" cy="341.80" r="0.72" fill="#ff0000"/>
<circle cx="440.50" cy="343.80" r="0.72" fill="#ff0000"/>
<circle cx="441.00" cy="345.20" r="0.72" fill="#ff0000"/>
<circle cx="448.00" cy="346.80" r="0.72" fill="#ff0000"/>
<circle cx="448.80" cy="349.50" r="0.72" fill="#ff0000"/>
<circle cx="450.00" cy="349.50" r="0.72" fill="#ff0000"/>
<circle cx="445.80" cy="350.50" r="0.72" fill="#ff0000"/>
<circle cx="439.00" cy="348.50" r="0.72" fill="#ff0000"/>
<circle cx="438.50" cy="351.00" r="0.72" fill="#ff0000"/>
<circle cx="438.50" cy="353.20" r="0.72" fill="#ff0000"/>
<circle cx="445.80" cy="355.50" r="0.72" fill="#ff0000"/>
<circle cx="447.50" cy="356.50" r="0.72" fill="#ff0000"/>
<circle cx="448.20" cy="358.00" r="0.72" fill="#ff0000"/>
<circle cx="439.50" cy="361.50" r="0.72" fill="#ff0000"/>
<circle cx="448.80" cy="361.50" r="0.72" fill="#ff0000"/>
<circle cx="450.20" cy="360.50" r="0.72" fill="#ff0000"/>
<circle cx="444.20" cy="363.00" r="0.72" fill="#ff0000"/>
<circle cx="448.20" cy="370.50" r="0.72" fill="#ff0000"/>
<circle cx="437.50" cy="372.80" r="0.72" fill="#ff0000"/>
<circle cx="451.50" cy="374.50" r="0.72" fill="#ff0000"/>
<circle cx="443.80" cy="377.20" r="0.72" fill="#ff0000"/>
<circle cx="442.50" cy="385.80" r="0.72" fill="#ff0000"/>
<circle cx="444.50" cy="385.80" r="0.72" fill="#ff0000"/>
<circle cx="488.20" cy="320.20" r="0.72" fill="#ff0000"/>
<circle cx="491.50" cy="320.20" r="0.72" fill="#ff0000"/>
<circle cx="491.80" cy="332.20" r="0.72" fill="#ff0000"/>
<circle cx="495.00" cy="338.20" r="0.72" fill="#ff0000"/>
<circle cx="494.80" cy="338.80" r="0.72" fill="#ff0000"/>
<circle cx="494.20" cy="343.80" r="0.72" fill="#ff0000"/>
<circle cx="488.20" cy="344.50" r="0.72" fill="#ff0000"/>
<circle cx="490.00" cy="344.00" r="0.72" fill="#ff0000"/>
<circle cx="496.00" cy="346.50" r="0.72" fill="#ff0000"/>
<circle cx="486.50" cy="348.00" r="0.72" fill="#ff0000"/>
<circle cx="489.00" cy="347.80" r="0.72" fill="#ff0000"/>
<circle cx="495.00" cy="348.00" r="0.72" fill="#ff0000"/>
<circle cx="497.00" cy="348.50" r="0.72" fill="#ff0000"/>
<circle cx="487.50" cy="351.50" r="0.72" fill="#ff0000"/>
<circle cx="489.80" cy="351.80" r="0.72" fill="#ff0000"/>
<circle cx="491.00" cy="351.80" r="0.72" fill="#ff0000"/>
<circle cx="492.50" cy="350.50" r="0.72" fill="#ff0000"/>
<circle cx="496.00" cy="351.80" r="0.72" fill="#ff0000"/>
<circle cx="487.00" cy="354.20" r="0.72" fill="#ff0000"/>
<circle cx="492.80" cy="353.20" r="0.72" fill="#ff0000"/>
<circle cx="493.80" cy="353.80" r="0.72" fill="#ff0000"/>
<circle cx="495.00" cy="355.00" r="0.72" fill="#ff0000"/>
<circle cx="485.50" cy="357.50" r="0.72" fill="#ff0000"/>
<circle cx="489.80" cy="356.50" r="0.72" fill="#ff0000"/>
<circle cx="490.50" cy="357.20" r="0.72" fill="#ff0000"/>
<circle cx="494.50" cy="357.00" r="0.72" fill="#ff0000"/>
<circle cx="495.00" cy="357.80" r="0.72" fill="#ff0000"/>
<circle cx="498.20" cy="356.50" r="0.72" fill="#ff0000"/>
<circle cx="492.20" cy="359.00" r="0.72" fill="#ff0000"/>
<circle cx="493.50" cy="359.00" r="0.72" fill="#ff0000"/>
<circle cx="495.00" cy="359.20" r="0.72" fill="#ff0000"/>
<circle cx="488.50" cy="360.80" r="0.72" fill="#ff0000"/>
<circle cx="492.20" cy="362.00" r="0.72" fill="#ff0000"/>
<circle cx="495.20" cy="362.20" r="0.72" fill="#ff0000"/>
<circle cx="498.20" cy="363.50" r="0.72" fill="#ff0000"/>
<circle cx="492.50" cy="364.50" r="0.72" fill="#ff0000"/>
<circle cx="487.80" cy="365.50" r="0.72" fill="#ff0000"/>
<circle cx="493.80" cy="366.20" r="0.72" fill="#ff0000"/>
<circle cx="495.80" cy="366.50" r="0.72" fill="#ff0000"/>
<circle cx="489.80" cy="367.50" r="0.72" fill="#ff0000"/>
<circle cx="495.20" cy="368.50" r="0.72" fill="#ff0000"/>
<circle cx="489.50" cy="370.20" r="0.72" fill="#ff0000"/>
<circle cx="486.80" cy="376.20" r="0.72" fill="#ff0000"/>
<circle cx="498.00" cy="377.50" r="0.72" fill="#ff0000"/>
<rect x="370.00" y="248.00" width="148.80" height="145.50" fill="none" stroke="#1a1a1a" stroke-width="1.5"/>
<line x1="368.80" y1="271.20" x2="370.00" y2="271.20" stroke="#333" stroke-width="0.6"/>
<text x="367.70" y="273.40" font-size="3.4" text-anchor="end" fill="#333333" stroke="#333333" stroke-width="0.15">4.90</text>
<line x1="368.80" y1="302.70" x2="370.00" y2="302.70" stroke="#333" stroke-width="0.6"/>
<text x="367.70" y="304.90" font-size="3.4" text-anchor="end" fill="#333333" stroke="#333333" stroke-width="0.15">4.85</text>
<line x1="368.80" y1="334.20" x2="370.00" y2="334.20" stroke="#333" stroke-width="0.6"/>
<text x="367.70" y="336.40" font-size="3.4" text-anchor="end" fill="#333333" stroke="#333333" stroke-width="0.15">4.80</text>
<line x1="368.80" y1="365.70" x2="370.00" y2="365.70" stroke="#333" stroke-width="0.6"/>
<text x="367.70" y="367.90" font-size="3.4" text-anchor="end" fill="#333333" stroke="#333333" stroke-width="0.15">4.75</text>
<line x1="397.70" y1="393.50" x2="397.70" y2="394.70" stroke="#333" stroke-width="0.6"/>
<text x="397.70" y="399.10" font-size="4.2" text-anchor="middle" fill="#333333" stroke="#333333" stroke-width="0.15">Hypoxia</text>
<line x1="444.50" y1="393.50" x2="444.50" y2="394.70" stroke="#333" stroke-width="0.6"/>
<text x="444.50" y="399.10" font-size="4.2" text-anchor="middle" fill="#333333" stroke="#333333" stroke-width="0.15">Immune</text>
<line x1="491.30" y1="393.50" x2="491.30" y2="394.70" stroke="#333" stroke-width="0.6"/>
<text x="491.30" y="399.10" font-size="4.2" text-anchor="middle" fill="#333333" stroke="#333333" stroke-width="0.15">Mixture</text>
<rect x="345.90" y="175.80" width="8.00" height="6.00" fill="#fff" stroke="none" stroke-width="1"/>
<text x="0" y="7.4" font-size="10" text-anchor="start" fill="#000">A</text>
<text x="175.6" y="7.6" font-size="10" text-anchor="start" fill="#000">B</text>
<text x="360.6" y="8.0" font-size="10" text-anchor="start" fill="#000">C</text>
<text x="0.2" y="220.6" font-size="10.4" text-anchor="start" fill="#000">D</text>
<text x="175.2" y="220.4" font-size="10.4" text-anchor="start" fill="#000">E</text>
<text x="360.3" y="222" font-size="10.4" text-anchor="start" fill="#000">F</text>
<text x="86.4" y="13.8" font-size="10.3" text-anchor="middle" fill="#000">TCGA</text>
<text x="260.4" y="11.8" font-size="10.75" text-anchor="middle" fill="#000">CPTAC</text>
<text x="436.5" y="13.3" font-size="10.5" text-anchor="middle" fill="#000">Moffitt</text>
<text x="89.4" y="229" font-size="10.4" text-anchor="middle" fill="#000">Gene expression</text>
<text x="260.1" y="229.4" font-size="10.2" text-anchor="middle" fill="#000">Protein</text>
<text x="433" y="229.8" font-size="10.2" text-anchor="middle" fill="#000">Phosphoprotein</text>
<text x="88.1" y="26.4" font-size="4.56" font-weight="bold" text-anchor="middle" fill="#000" stroke="#000" stroke-width="0.05">Correlation between Hypoxia and EGFR pathway score</text>
<text x="267.4" y="26.3" font-size="4.56" font-weight="bold" text-anchor="middle" fill="#000" stroke="#000" stroke-width="0.05">Correlation between Hypoxia and EGFR pathway score</text>
<text x="442.9" y="26.3" font-size="4.56" font-weight="bold" text-anchor="middle" fill="#000" stroke="#000" stroke-width="0.05">Correlation between Hypoxia and EGFR pathway score</text>
<text x="88.7" y="239.6" font-size="4.56" font-weight="bold" text-anchor="middle" fill="#000" stroke="#000" stroke-width="0.05">EGFR by Tumor Class</text>
<text x="267.9" y="239.6" font-size="4.56" font-weight="bold" text-anchor="middle" fill="#000" stroke="#000" stroke-width="0.05">EGFR by Tumor Class</text>
<text x="444.4" y="239.9" font-size="4.56" font-weight="bold" text-anchor="middle" fill="#000" stroke="#000" stroke-width="0.05">EGFR by Tumor Class</text>
<text x="11.4" y="31.7" font-size="3.74" fill="#000" stroke="#000" stroke-width="0.07">Pearson correlation: 0.5022, <tspan font-style="italic">P</tspan>-value: &lt; 0.001</text>
<text x="191.2" y="31.7" font-size="3.74" fill="#000" stroke="#000" stroke-width="0.07">Pearson correlation: 0.5283, <tspan font-style="italic">P</tspan>-value: &lt; 0.001</text>
<text x="366.6" y="31.7" font-size="3.74" fill="#000" stroke="#000" stroke-width="0.07">Pearson correlation: 0.3797, <tspan font-style="italic">P</tspan>-value: &lt; 0.001</text>
<text x="12.7" y="245.0" font-size="3.85" fill="#000" stroke="#000" stroke-width="0.05">Anova <tspan font-style="italic">P</tspan>-value: 0.036</text>
<text x="191.8" y="245.0" font-size="3.85" fill="#000" stroke="#000" stroke-width="0.05">Anova <tspan font-style="italic">P</tspan>-value: &lt; 0.001</text>
<text x="369.6" y="245.2" font-size="3.85" fill="#000" stroke="#000" stroke-width="0.05">Anova <tspan font-style="italic">P</tspan>-value: &lt; 0.001</text>
<text x="54.9" y="39.9" font-size="3.7" fill="#222" stroke="#222" stroke-width="0.06">color</text>
<circle cx="67.70" cy="38.80" r="0.7" fill="#ff0000"/>
<text x="72.00" y="39.85" font-size="2.95" fill="#000" stroke="#000" stroke-width="0.06">Hypoxia</text>
<circle cx="87.30" cy="38.80" r="0.7" fill="#00ff00"/>
<text x="91.90" y="39.85" font-size="2.95" fill="#000" stroke="#000" stroke-width="0.06">Immune</text>
<circle cx="107.50" cy="38.80" r="0.7" fill="#000000"/>
<text x="111.90" y="39.85" font-size="2.95" fill="#000" stroke="#000" stroke-width="0.06">Mixture</text>
<text x="234.2" y="39.9" font-size="3.7" fill="#222" stroke="#222" stroke-width="0.06">color</text>
<circle cx="247.00" cy="38.80" r="0.7" fill="#ff0000"/>
<text x="251.30" y="39.85" font-size="2.95" fill="#000" stroke="#000" stroke-width="0.06">Hypoxia</text>
<circle cx="266.60" cy="38.80" r="0.7" fill="#00ff00"/>
<text x="271.20" y="39.85" font-size="2.95" fill="#000" stroke="#000" stroke-width="0.06">Immune</text>
<circle cx="286.80" cy="38.80" r="0.7" fill="#000000"/>
<text x="291.20" y="39.85" font-size="2.95" fill="#000" stroke="#000" stroke-width="0.06">Mixture</text>
<text x="410" y="39.9" font-size="3.7" fill="#222" stroke="#222" stroke-width="0.06">color</text>
<circle cx="422.80" cy="38.80" r="0.7" fill="#ff0000"/>
<text x="427.10" y="39.85" font-size="2.95" fill="#000" stroke="#000" stroke-width="0.06">Hypoxia</text>
<circle cx="442.40" cy="38.80" r="0.7" fill="#00ff00"/>
<text x="447.00" y="39.85" font-size="2.95" fill="#000" stroke="#000" stroke-width="0.06">Immune</text>
<circle cx="462.60" cy="38.80" r="0.7" fill="#000000"/>
<text x="467.00" y="39.85" font-size="2.95" fill="#000" stroke="#000" stroke-width="0.06">Mixture</text>
<text x="88.1" y="185.6" font-size="4.55" font-weight="bold" text-anchor="middle" fill="#000" stroke="#000" stroke-width="0.05">Hypoxia TIMEx score</text>
<text x="267.3" y="185.6" font-size="4.55" font-weight="bold" text-anchor="middle" fill="#000" stroke="#000" stroke-width="0.05">Hypoxia TIMEx score</text>
<text x="442.85" y="185.6" font-size="4.55" font-weight="bold" text-anchor="middle" fill="#000" stroke="#000" stroke-width="0.05">Hypoxia TIMEx score</text>
<text x="5.0" y="111.1" font-size="4.55" font-weight="bold" text-anchor="middle" fill="#000" stroke="#000" stroke-width="0.05" transform="rotate(-90 5.0 111.1)">EGFR pathway score</text>
<text x="183.8" y="111.0" font-size="4.55" font-weight="bold" text-anchor="middle" fill="#000" stroke="#000" stroke-width="0.05" transform="rotate(-90 183.8 111.0)">EGFR pathway score</text>
<text x="359.6" y="111.6" font-size="4.55" font-weight="bold" text-anchor="middle" fill="#000" stroke="#000" stroke-width="0.05" transform="rotate(-90 359.6 111.6)">EGFR pathway score</text>
<text x="4.8" y="320.2" font-size="5.05" text-anchor="middle" fill="#000" stroke="#000" stroke-width="0.15" transform="rotate(-90 4.8 320.2)">Normalized protein level</text>
<text x="184.5" y="321.0" font-size="5.05" text-anchor="middle" fill="#000" stroke="#000" stroke-width="0.15" transform="rotate(-90 184.5 321.0)">Normalized protein level</text>
<text x="359.6" y="320.4" font-size="5.05" text-anchor="middle" fill="#000" stroke="#000" stroke-width="0.15" transform="rotate(-90 359.6 320.4)">Normalized protein level</text>
</svg></body></html>
